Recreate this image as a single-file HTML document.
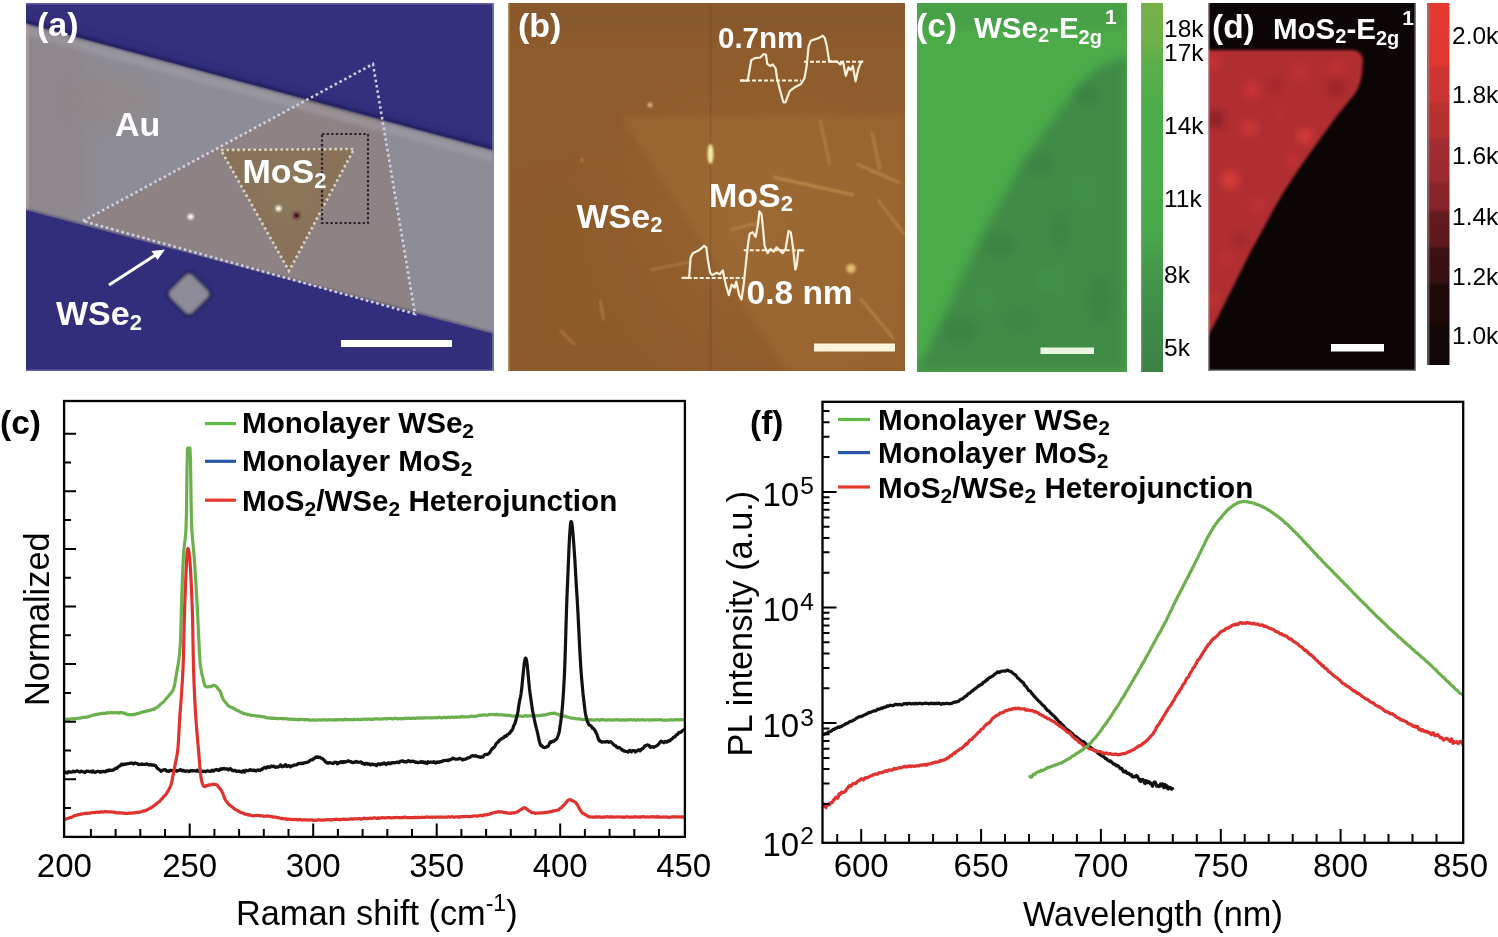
<!DOCTYPE html>
<html><head><meta charset="utf-8"><title>Figure</title>
<style>
html,body{margin:0;padding:0;background:#fff;width:1498px;height:937px;overflow:hidden}
svg{display:block}
text{font-family:"Liberation Sans",Arial,sans-serif}
.b{font-weight:bold}
</style></head><body>
<svg width="1498" height="937" viewBox="0 0 1498 937">
<defs>
<clipPath id="ca"><rect x="26" y="3" width="468" height="368"/></clipPath>
<clipPath id="cb"><rect x="508" y="3" width="397" height="368"/></clipPath>
<clipPath id="cc"><rect x="917" y="3" width="210" height="369"/></clipPath>
<clipPath id="cd"><rect x="1208" y="3" width="208" height="368"/></clipPath>
<clipPath id="band"><polygon points="26,23 494,150 494,334 26,210"/></clipPath>
<filter id="bl1" x="-20%" y="-20%" width="140%" height="140%"><feGaussianBlur stdDeviation="1"/></filter>
<filter id="bl15" x="-20%" y="-20%" width="140%" height="140%"><feGaussianBlur stdDeviation="1.5"/></filter>
<filter id="bl2" x="-20%" y="-20%" width="140%" height="140%"><feGaussianBlur stdDeviation="2"/></filter>
<filter id="bl3" x="-30%" y="-30%" width="160%" height="160%"><feGaussianBlur stdDeviation="3"/></filter>
<filter id="bl4" x="-20%" y="-20%" width="140%" height="140%"><feGaussianBlur stdDeviation="4"/></filter>
<filter id="bl6" x="-30%" y="-30%" width="160%" height="160%"><feGaussianBlur stdDeviation="6"/></filter>
<filter id="bl8" x="-30%" y="-30%" width="160%" height="160%"><feGaussianBlur stdDeviation="8"/></filter>
<filter id="bl12" x="-50%" y="-50%" width="200%" height="200%"><feGaussianBlur stdDeviation="12"/></filter>
<linearGradient id="gcb" x1="0" y1="0" x2="0" y2="1">
<stop offset="0" stop-color="#78b048"/><stop offset="0.11" stop-color="#6eb049"/><stop offset="0.16" stop-color="#5caf4a"/><stop offset="0.27" stop-color="#4dad4a"/><stop offset="0.6" stop-color="#4aaa4a"/><stop offset="0.72" stop-color="#44984b"/><stop offset="0.85" stop-color="#3f8b49"/><stop offset="1" stop-color="#3b8146"/>
</linearGradient>
<linearGradient id="gdb" x1="0" y1="0" x2="0" y2="1">
<stop offset="0" stop-color="#e4392f"/><stop offset="0.17" stop-color="#e0382f"/><stop offset="0.18" stop-color="#cf3633"/><stop offset="0.27" stop-color="#c93434"/><stop offset="0.28" stop-color="#b8312f"/><stop offset="0.37" stop-color="#b3302f"/><stop offset="0.38" stop-color="#a22c31"/><stop offset="0.49" stop-color="#9c2a30"/><stop offset="0.5" stop-color="#8a252a"/><stop offset="0.57" stop-color="#84242a"/><stop offset="0.58" stop-color="#631a1e"/><stop offset="0.67" stop-color="#5c181c"/><stop offset="0.68" stop-color="#3c1012"/><stop offset="0.77" stop-color="#361012"/><stop offset="0.78" stop-color="#220a0b"/><stop offset="0.88" stop-color="#1e0909"/><stop offset="0.89" stop-color="#140708"/><stop offset="1" stop-color="#120707"/>
</linearGradient>
<radialGradient id="gbl" cx="0.62" cy="0.6" r="0.5"><stop offset="0" stop-color="#a06c35" stop-opacity="0.4"/><stop offset="1" stop-color="#a06c35" stop-opacity="0"/></radialGradient>
</defs>

<g clip-path="url(#ca)">
<rect x="26" y="3" width="468" height="368" fill="#322e7c"/>
<polygon points="26,3 494,3 494,140 26,10" fill="#36327f" opacity="0.6"/>
<polygon points="26,23 494,150 494,334 26,210" fill="#8e8c94"/>
<g clip-path="url(#band)">
<rect x="26" y="20" width="60" height="200" fill="#927f80" opacity="0.3" filter="url(#bl8)"/>
<rect x="26" y="3" width="3" height="368" fill="#b0a4a8" opacity="0.6"/>
<ellipse cx="110" cy="100" rx="40" ry="25" fill="#978578" opacity="0.3" filter="url(#bl8)"/>
<polygon points="83,221 373,64 415,314" fill="#8e8384"/>
<line x1="26" y1="31" x2="494" y2="158" stroke="#a8a6b0" stroke-width="8" opacity="0.45" filter="url(#bl2)"/>
<line x1="26" y1="210" x2="494" y2="334" stroke="#2a2766" stroke-width="3" opacity="0.5" filter="url(#bl1)"/>
</g>
<line x1="26" y1="21.8" x2="494" y2="148.8" stroke="#221f58" stroke-width="4" opacity="0.75" filter="url(#bl1)"/>
<polygon points="221,150 354,149 289,271" fill="#88735a"/>
<ellipse cx="290" cy="190" rx="30" ry="30" fill="#8e7a58" opacity="0.5" filter="url(#bl8)"/>
<polygon points="83,221 373,64 415,314" fill="none" stroke="#d4d3e6" stroke-width="2.6" stroke-dasharray="2.6,2.8" opacity="0.95"/>
<polygon points="221,150 354,149 289,271" fill="none" stroke="#dcd6c6" stroke-width="2.6" stroke-dasharray="2.6,2.8" opacity="0.95"/>
<rect x="322" y="134" width="46" height="89" fill="none" stroke="#1a1420" stroke-width="2.2" stroke-dasharray="2.4,2.2" opacity="0.85"/>
<circle cx="278.5" cy="208.5" r="3" fill="#f6f2e2" filter="url(#bl1)"/>
<circle cx="190.6" cy="216.7" r="3" fill="#f6f2ec" filter="url(#bl1)"/>
<circle cx="296.5" cy="215.5" r="4" fill="#6a3040" opacity="0.8" filter="url(#bl1)"/>
<circle cx="296.5" cy="215.5" r="1.8" fill="#3a1020"/>
<g transform="translate(189,294) rotate(45)" filter="url(#bl15)"><rect x="-19" y="-19" width="38" height="38" rx="7" fill="#24215e"/><rect x="-15.5" y="-15.5" width="31" height="31" rx="5" fill="#8e8c98"/></g>
<line x1="109" y1="285" x2="157" y2="254" stroke="#fff" stroke-width="3"/>
<polygon points="165,249.5 151.5,251 157.5,260" fill="#fff"/>
<rect x="341" y="340" width="111" height="7" fill="#fff"/>
<rect x="26" y="3" width="468" height="1.5" fill="#7a78b0" opacity="0.7"/>
<rect x="26" y="369.5" width="468" height="1.5" fill="#7a78b0" opacity="0.7"/>
<rect x="492.3" y="3" width="1.7" height="368" fill="#8a86c0" opacity="0.8"/>
</g>
<text x="37" y="36" class="b" font-size="34" fill="#fff">(a)</text>
<text x="115" y="135.5" class="b" font-size="34" fill="#fff">Au</text>
<text x="242.5" y="183" class="b" font-size="34" fill="#fff">MoS<tspan font-size="22" dy="5">2</tspan></text>
<text x="56" y="325" class="b" font-size="34" fill="#fff">WSe<tspan font-size="22" dy="5">2</tspan></text>
<g clip-path="url(#cb)">
<rect x="508" y="3" width="397" height="368" fill="#8e5b2c"/>
<rect x="508" y="3" width="397" height="368" fill="url(#gbl)"/>
<polygon points="621,117 905,114 905,371 786,371" fill="#a8743a" opacity="0.38" filter="url(#bl3)"/>
<polygon points="508,200 600,180 700,371 508,371" fill="#8d5c2c" opacity="0.5" filter="url(#bl12)"/>
<rect x="508" y="3" width="397" height="30" fill="#7e5230" opacity="0.35" filter="url(#bl6)"/>
<line x1="710.5" y1="3" x2="710.5" y2="371" stroke="#6e4422" stroke-width="1.6" opacity="0.35"/>
<rect x="508" y="3" width="1.5" height="368" fill="#b09060"/>
<line x1="773" y1="177" x2="854" y2="195" stroke="#d8a860" stroke-width="2.6" opacity="0.55" filter="url(#bl1)"/>
<line x1="857" y1="164" x2="900" y2="183" stroke="#d8a860" stroke-width="2.6" opacity="0.44999999999999996" filter="url(#bl1)"/>
<line x1="860" y1="298" x2="894" y2="339" stroke="#d8a860" stroke-width="2.6" opacity="0.44999999999999996" filter="url(#bl1)"/>
<line x1="878" y1="200" x2="905" y2="235" stroke="#d8a860" stroke-width="2.6" opacity="0.4" filter="url(#bl1)"/>
<line x1="650" y1="270" x2="690" y2="262" stroke="#d8a860" stroke-width="2.6" opacity="0.35" filter="url(#bl1)"/>
<line x1="872" y1="132" x2="880" y2="170" stroke="#d8a860" stroke-width="2.6" opacity="0.4" filter="url(#bl1)"/>
<line x1="820" y1="120" x2="830" y2="165" stroke="#d8a860" stroke-width="2.6" opacity="0.35" filter="url(#bl1)"/>
<line x1="600" y1="300" x2="604" y2="320" stroke="#d8a860" stroke-width="2.6" opacity="0.4" filter="url(#bl1)"/>
<line x1="560" y1="330" x2="575" y2="345" stroke="#d8a860" stroke-width="2.6" opacity="0.35" filter="url(#bl1)"/>
<line x1="730" y1="230" x2="760" y2="222" stroke="#d8a860" stroke-width="2.6" opacity="0.4" filter="url(#bl1)"/>
<ellipse cx="710.5" cy="154" rx="3" ry="10" fill="#f2eaa8" filter="url(#bl1)"/>
<circle cx="851" cy="268.5" r="4.5" fill="#e8c070" filter="url(#bl15)"/>
<circle cx="650" cy="105" r="2.5" fill="#d8b078" filter="url(#bl1)"/>
<circle cx="582" cy="160" r="2" fill="#c89860" opacity="0.6" filter="url(#bl1)"/>
<polyline points="740.0,80.6 747.7,80.6 751.2,60.3 754.7,58.2 760.3,57.5 763.8,54.0 765.9,54.7 767.3,63.8 770.1,65.9 772.9,64.5 775.7,68.7 777.1,78.5 779.9,89.7 783.4,102.3 785.5,102.3 789.7,91.1 795.3,86.9 800.9,84.1 804.4,78.5 806.5,67.3 808.6,46.3 810.8,40.7 819.2,37.9 822.7,35.7 824.8,37.9 826.9,46.3 829.0,60.3 831.8,61.7 837.4,61.7 840.2,64.5 843.0,61.7 845.8,75.7 848.6,67.3 850.7,70.1 852.8,65.9 855.6,81.3 858.4,68.7 861.2,61.7 863.3,61.7" fill="none" stroke="#fff2dc" stroke-width="2.2" stroke-linejoin="round"/>
<line x1="740" y1="80.6" x2="801" y2="80.6" stroke="#fff2dc" stroke-width="2" stroke-dasharray="4,2"/>
<line x1="804" y1="61.7" x2="863" y2="61.7" stroke="#fff2dc" stroke-width="2" stroke-dasharray="4,2"/>
<polyline points="681.7,277.9 689.1,277.9 690.6,257.7 692.9,253.2 698.9,250.3 704.1,245.8 706.3,247.3 707.8,259.2 710.1,272.7 712.3,274.9 716.8,272.7 719.8,274.2 722.8,270.4 725.8,284.6 728.8,295.1 731.7,284.6 734.7,287.6 736.2,281.6 739.2,295.1 741.5,299.6 743.7,284.6 745.9,263.7 748.2,242.8 749.7,233.8 752.7,232.3 755.7,236.8 757.9,224.8 759.4,211.4 761.6,214.4 763.1,229.3 764.6,245.8 767.6,253.2 770.6,248.8 773.6,251.7 776.6,247.3 779.6,250.3 782.6,253.2 785.6,248.8 788.6,230.8 790.8,232.3 793.0,247.3 795.3,269.7 796.8,265.2 798.3,250.3 800.5,250.3 804.2,250.3" fill="none" stroke="#fff2dc" stroke-width="2.2" stroke-linejoin="round"/>
<line x1="681.7" y1="278" x2="743.7" y2="278" stroke="#fff2dc" stroke-width="2" stroke-dasharray="4,2"/>
<line x1="743.7" y1="250.3" x2="804" y2="250.3" stroke="#fff2dc" stroke-width="2" stroke-dasharray="4,2"/>
<rect x="814" y="343.5" width="81" height="8" fill="#fff5de"/>
</g>
<text x="518" y="36.5" class="b" font-size="34" fill="#fff">(b)</text>
<text x="718" y="48" class="b" font-size="29.5" fill="#fff">0.7nm</text>
<text x="709" y="207" class="b" font-size="34" fill="#fff">MoS<tspan font-size="22" dy="4">2</tspan></text>
<text x="576.5" y="227.5" class="b" font-size="34" fill="#fff">WSe<tspan font-size="22" dy="4">2</tspan></text>
<text x="746.5" y="304" class="b" font-size="33.5" fill="#fff">0.8 nm</text>
<g clip-path="url(#cc)">
<rect x="917" y="3" width="210" height="369" fill="#4caa49"/>
<rect x="917" y="3" width="210" height="25" fill="#459a47" opacity="0.6" filter="url(#bl4)"/>
<polygon points="1127,56 1127,372 917,372 917,366 928,348 944,316 960,280 976,248 992,216 1008,188 1024,160 1044,132 1064,104 1084,80 1100,66" fill="#3f8c46" filter="url(#bl4)"/>
<ellipse cx="1088" cy="95" rx="12" ry="10" fill="#367c40" opacity="0.6" filter="url(#bl6)"/>
<ellipse cx="1040" cy="165" rx="14" ry="10" fill="#367c40" opacity="0.5" filter="url(#bl6)"/>
<ellipse cx="1000" cy="245" rx="16" ry="12" fill="#367c40" opacity="0.5" filter="url(#bl6)"/>
<ellipse cx="960" cy="330" rx="18" ry="14" fill="#367c40" opacity="0.5" filter="url(#bl6)"/>
<ellipse cx="1060" cy="230" rx="12" ry="20" fill="#367c40" opacity="0.35" filter="url(#bl6)"/>
<ellipse cx="1100" cy="300" rx="14" ry="25" fill="#367c40" opacity="0.4" filter="url(#bl6)"/>
<ellipse cx="1020" cy="320" rx="20" ry="12" fill="#367c40" opacity="0.3" filter="url(#bl6)"/>
<ellipse cx="1050" cy="280" rx="14" ry="12" fill="#4a9a4c" opacity="0.35" filter="url(#bl6)"/>
<ellipse cx="1085" cy="190" rx="10" ry="14" fill="#4a9a4c" opacity="0.3" filter="url(#bl6)"/>
<ellipse cx="985" cy="300" rx="10" ry="10" fill="#4a9a4c" opacity="0.3" filter="url(#bl6)"/>
<rect x="1040.5" y="347.5" width="53.5" height="6.5" fill="#eaf5e0"/>
</g>
<rect x="1141" y="3" width="22" height="369" fill="url(#gcb)"/>
<rect x="1141" y="3" width="1.5" height="369" fill="#9a9a9a" opacity="0.5"/>
<text x="916" y="37" class="b" font-size="33.5" fill="#fff">(c)</text>
<text x="974" y="37.5" class="b" font-size="29.5" fill="#fff">WSe<tspan font-size="20" dy="4">2</tspan><tspan dy="-4">-E</tspan><tspan font-size="20" dy="6">2g</tspan><tspan font-size="21" dx="3" dy="-20">1</tspan></text>
<text x="1164" y="36.5" font-size="24.5" fill="#000">18k</text>
<text x="1164" y="61" font-size="24.5" fill="#000">17k</text>
<text x="1164" y="134.3" font-size="24.5" fill="#000">14k</text>
<text x="1164" y="206.7" font-size="24.5" fill="#000">11k</text>
<text x="1164" y="283" font-size="24.5" fill="#000">8k</text>
<text x="1164" y="356.2" font-size="24.5" fill="#000">5k</text>
<g clip-path="url(#cd)">
<rect x="1208" y="3" width="208" height="368" fill="#0b0505"/>
<path d="M1200,50 L1352,50 Q1362,50.5 1363,60 L1362,74 Q1360,88 1353,96 L1336,117 L1319,140.6 L1302,164.5 L1285,190 L1276,205 L1267,222 L1250.7,251.4 L1234.5,284 L1218.3,316.3 L1208,336.6 L1200,345 Z" fill="#b02e31" filter="url(#bl15)"/>
<clipPath id="redc"><path d="M1200,50 L1352,50 Q1362,50.5 1363,60 L1362,74 Q1360,88 1353,96 L1336,117 L1319,140.6 L1302,164.5 L1285,190 L1276,205 L1267,222 L1250.7,251.4 L1234.5,284 L1218.3,316.3 L1208,336.6 L1200,345 Z"/></clipPath>
<g clip-path="url(#redc)">
<circle cx="1214" cy="62" r="7" fill="#d03238" opacity="0.8" filter="url(#bl4)"/>
<circle cx="1252" cy="90" r="9" fill="#cc3438" opacity="0.8" filter="url(#bl4)"/>
<circle cx="1300" cy="72" r="9" fill="#c83438" opacity="0.6" filter="url(#bl4)"/>
<circle cx="1338" cy="68" r="9" fill="#cc3438" opacity="0.55" filter="url(#bl4)"/>
<circle cx="1250" cy="128" r="8" fill="#d03a3a" opacity="0.8" filter="url(#bl4)"/>
<circle cx="1280" cy="112" r="6" fill="#c63636" opacity="0.6" filter="url(#bl4)"/>
<circle cx="1305" cy="136" r="8" fill="#d83c3a" opacity="0.9" filter="url(#bl4)"/>
<circle cx="1292" cy="160" r="7" fill="#cc3838" opacity="0.6" filter="url(#bl4)"/>
<circle cx="1230" cy="180" r="9" fill="#dc3e3e" opacity="0.9" filter="url(#bl4)"/>
<circle cx="1258" cy="206" r="9" fill="#c43636" opacity="0.6" filter="url(#bl4)"/>
<circle cx="1226" cy="258" r="8" fill="#c23636" opacity="0.6" filter="url(#bl4)"/>
<circle cx="1216" cy="119" r="9" fill="#7a1a20" opacity="0.7" filter="url(#bl4)"/>
<circle cx="1240" cy="240" r="8" fill="#8e2226" opacity="0.4" filter="url(#bl4)"/>
<circle cx="1336" cy="88" r="10" fill="#962428" opacity="0.6" filter="url(#bl4)"/>
<circle cx="1275" cy="85" r="8" fill="#9a2428" opacity="0.5" filter="url(#bl4)"/>
<circle cx="1240" cy="300" r="8" fill="#c83a3a" opacity="0.5" filter="url(#bl4)"/>
<circle cx="1212" cy="300" r="8" fill="#c03838" opacity="0.5" filter="url(#bl4)"/>
</g>
<rect x="1331" y="344" width="53" height="7.5" fill="#fff"/>
<rect x="1414.5" y="3" width="1.5" height="368" fill="#7a7a7a"/>
<rect x="1208" y="3" width="1.5" height="368" fill="#b8a8a8" opacity="0.8"/>
<rect x="1208" y="369.5" width="208" height="1.5" fill="#7a7a7a"/>
</g>
<rect x="1427" y="3" width="22.5" height="362" fill="url(#gdb)"/>
<rect x="1427" y="3" width="2.5" height="362" fill="#8a8a8a" opacity="0.55"/>
<text x="1212" y="37.5" class="b" font-size="33.5" fill="#fff">(d)</text>
<text x="1273" y="38.5" class="b" font-size="29.5" fill="#fff">MoS<tspan font-size="20" dy="4">2</tspan><tspan dy="-4">-E</tspan><tspan font-size="20" dy="6">2g</tspan><tspan font-size="21" dx="3" dy="-20">1</tspan></text>
<text x="1452" y="43.8" font-size="24.5" fill="#000">2.0k</text>
<text x="1452" y="103.4" font-size="24.5" fill="#000">1.8k</text>
<text x="1452" y="164.3" font-size="24.5" fill="#000">1.6k</text>
<text x="1452" y="224.8" font-size="24.5" fill="#000">1.4k</text>
<text x="1452" y="284.6" font-size="24.5" fill="#000">1.2k</text>
<text x="1452" y="344.4" font-size="24.5" fill="#000">1.0k</text>
<clipPath id="cr"><rect x="64" y="401" width="621" height="436"/></clipPath>
<g clip-path="url(#cr)" fill="none" stroke-linejoin="round" stroke-linecap="round">
<path d="M64.0,719.5 L64.5,719.6 L65.0,719.3 L65.5,719.4 L66.0,719.3 L66.5,719.2 L67.0,719.1 L67.5,719.0 L68.0,719.5 L68.5,719.5 L69.0,719.6 L69.5,719.1 L70.0,719.0 L70.5,718.9 L71.0,718.8 L71.5,718.9 L72.0,718.9 L72.5,719.0 L73.0,718.9 L73.5,718.9 L74.0,718.9 L74.5,718.9 L75.0,718.8 L75.5,718.6 L76.0,718.5 L76.5,718.7 L77.0,718.6 L77.5,718.5 L78.0,718.3 L78.5,718.2 L79.0,718.1 L79.5,718.1 L80.0,718.1 L80.5,718.1 L81.0,718.0 L81.5,717.6 L82.0,717.6 L82.5,717.4 L83.0,717.5 L83.5,717.3 L84.0,717.4 L84.5,717.4 L85.0,717.2 L85.5,717.0 L86.0,717.0 L86.5,717.1 L87.0,717.1 L87.5,717.0 L88.0,716.8 L88.5,716.6 L89.0,716.4 L89.5,716.2 L90.0,716.2 L90.5,716.1 L91.0,715.9 L91.5,715.7 L92.0,715.4 L92.5,715.4 L93.0,715.3 L93.5,715.2 L94.0,715.0 L94.5,714.8 L95.0,714.9 L95.5,714.6 L96.0,714.4 L96.5,714.3 L97.0,714.5 L97.5,714.3 L98.0,714.1 L98.5,713.9 L99.0,713.9 L99.5,714.0 L100.0,713.8 L100.5,713.8 L101.0,713.5 L101.5,713.6 L102.0,713.5 L102.5,713.5 L103.0,713.2 L103.5,713.3 L104.0,713.3 L104.5,713.5 L105.0,713.5 L105.5,713.4 L106.0,713.2 L106.5,713.0 L107.0,712.8 L107.5,713.0 L108.0,712.9 L108.5,712.9 L109.0,712.7 L109.5,712.8 L110.0,712.9 L110.5,712.8 L111.0,712.6 L111.5,712.5 L112.0,712.7 L112.5,713.0 L113.0,713.0 L113.5,712.8 L114.0,712.7 L114.5,712.7 L115.0,712.8 L115.5,712.6 L116.0,712.7 L116.5,712.6 L117.0,712.7 L117.5,712.7 L118.0,712.9 L118.5,713.0 L119.0,713.2 L119.5,712.7 L120.0,712.5 L120.5,712.3 L121.0,712.6 L121.5,712.5 L122.0,712.7 L122.5,712.9 L123.0,713.1 L123.5,713.0 L124.0,712.9 L124.5,713.2 L125.0,713.4 L125.5,713.9 L126.0,714.0 L126.5,714.1 L127.0,714.0 L127.5,714.4 L128.0,714.5 L128.5,714.7 L129.0,714.5 L129.5,714.5 L130.0,714.4 L130.5,714.7 L131.0,714.8 L131.5,714.9 L132.0,714.7 L132.5,714.6 L133.0,714.6 L133.5,714.5 L134.0,714.4 L134.5,714.6 L135.0,714.6 L135.5,714.4 L136.0,713.9 L136.5,713.7 L137.0,713.7 L137.5,713.7 L138.0,713.7 L138.5,713.5 L139.0,713.3 L139.5,713.2 L140.0,712.8 L140.5,712.6 L141.0,712.4 L141.5,712.3 L142.0,712.2 L142.5,711.9 L143.0,711.8 L143.5,711.8 L144.0,711.7 L144.5,711.6 L145.0,711.5 L145.5,711.5 L146.0,711.5 L146.5,711.1 L147.0,711.0 L147.5,710.6 L148.0,710.7 L148.5,710.6 L149.0,710.6 L149.5,710.5 L150.0,710.3 L150.5,710.2 L151.0,710.0 L151.5,709.8 L152.0,709.5 L152.5,709.3 L153.0,709.4 L153.5,709.2 L154.0,709.3 L154.5,708.9 L155.0,708.5 L155.5,708.1 L156.0,707.9 L156.5,707.6 L157.0,707.3 L157.5,706.9 L158.0,706.8 L158.5,706.3 L159.0,706.0 L159.5,705.3 L160.0,704.9 L160.5,704.2 L161.0,703.7 L161.5,703.4 L162.0,703.1 L162.5,702.7 L163.0,702.3 L163.5,701.8 L164.0,701.4 L164.5,700.8 L165.0,700.1 L165.5,699.4 L166.0,698.9 L166.5,698.2 L167.0,697.8 L167.5,697.1 L168.0,696.8 L168.5,696.1 L169.0,695.4 L169.5,694.8 L170.0,694.2 L170.5,693.7 L171.0,693.1 L171.5,692.5 L172.0,691.8 L172.5,690.9 L173.0,690.0 L173.5,688.7 L174.0,687.3 L174.5,685.0 L175.0,682.6 L175.5,679.7 L176.0,676.5 L176.5,673.4 L177.0,670.6 L177.5,668.1 L178.0,665.3 L178.5,661.9 L179.0,658.2 L179.5,653.9 L180.0,648.5 L180.5,641.0 L181.0,624.3 L181.5,605.1 L182.0,590.5 L182.5,576.7 L183.0,564.5 L183.5,554.8 L184.0,548.4 L184.5,544.2 L185.0,540.4 L185.5,535.7 L186.0,528.6 L186.5,513.4 L187.0,468.7 L187.5,448.2 L188.0,448.2 L188.5,448.0 L189.0,448.1 L189.5,448.3 L190.0,448.2 L190.5,461.3 L191.0,496.6 L191.5,523.2 L192.0,532.2 L192.5,538.9 L193.0,544.0 L193.5,549.1 L194.0,554.9 L194.5,562.0 L195.0,569.3 L195.5,577.1 L196.0,585.2 L196.5,593.6 L197.0,602.3 L197.5,611.8 L198.0,622.2 L198.5,632.9 L199.0,643.1 L199.5,653.9 L200.0,662.2 L200.5,666.3 L201.0,669.5 L201.5,672.0 L202.0,674.3 L202.5,676.3 L203.0,678.3 L203.5,680.3 L204.0,682.7 L204.5,684.4 L205.0,685.9 L205.5,686.5 L206.0,686.7 L206.5,686.8 L207.0,686.8 L207.5,686.9 L208.0,686.8 L208.5,686.6 L209.0,686.6 L209.5,686.7 L210.0,686.7 L210.5,686.8 L211.0,686.4 L211.5,686.4 L212.0,686.0 L212.5,685.6 L213.0,685.3 L213.5,685.3 L214.0,685.4 L214.5,685.4 L215.0,685.6 L215.5,686.0 L216.0,686.3 L216.5,686.6 L217.0,687.3 L217.5,688.0 L218.0,688.7 L218.5,689.4 L219.0,690.1 L219.5,690.5 L220.0,691.1 L220.5,692.2 L221.0,693.6 L221.5,695.1 L222.0,696.5 L222.5,697.6 L223.0,698.8 L223.5,699.8 L224.0,700.6 L224.5,701.1 L225.0,701.7 L225.5,702.3 L226.0,702.9 L226.5,703.5 L227.0,704.2 L227.5,704.7 L228.0,705.6 L228.5,706.0 L229.0,706.3 L229.5,706.4 L230.0,706.7 L230.5,707.0 L231.0,707.3 L231.5,707.5 L232.0,707.5 L232.5,707.7 L233.0,707.9 L233.5,708.6 L234.0,708.7 L234.5,708.9 L235.0,709.1 L235.5,709.3 L236.0,709.7 L236.5,709.9 L237.0,710.3 L237.5,710.5 L238.0,710.6 L238.5,711.0 L239.0,711.1 L239.5,711.5 L240.0,711.7 L240.5,712.3 L241.0,712.4 L241.5,712.5 L242.0,712.6 L242.5,712.8 L243.0,713.2 L243.5,713.4 L244.0,713.7 L244.5,713.8 L245.0,714.0 L245.5,713.8 L246.0,713.9 L246.5,714.2 L247.0,714.5 L247.5,714.6 L248.0,714.4 L248.5,714.7 L249.0,714.8 L249.5,714.9 L250.0,715.0 L250.5,715.1 L251.0,715.3 L251.5,715.3 L252.0,715.5 L252.5,715.5 L253.0,715.6 L253.5,715.4 L254.0,715.4 L254.5,715.6 L255.0,715.7 L255.5,715.8 L256.0,715.9 L256.5,716.1 L257.0,716.1 L257.5,716.1 L258.0,715.9 L258.5,715.9 L259.0,716.0 L259.5,716.3 L260.0,716.4 L260.5,716.3 L261.0,716.4 L261.5,716.3 L262.0,716.6 L262.5,716.7 L263.0,716.9 L263.5,716.7 L264.0,716.8 L264.5,717.1 L265.0,717.3 L265.5,717.4 L266.0,717.4 L266.5,717.6 L267.0,717.9 L267.5,717.9 L268.0,717.9 L268.5,718.0 L269.0,718.0 L269.5,717.9 L270.0,718.0 L270.5,718.0 L271.0,718.4 L271.5,718.1 L272.0,718.1 L272.5,718.1 L273.0,718.3 L273.5,718.3 L274.0,718.3 L274.5,718.5 L275.0,718.4 L275.5,718.3 L276.0,718.4 L276.5,718.6 L277.0,718.7 L277.5,718.6 L278.0,718.6 L278.5,718.7 L279.0,718.6 L279.5,718.5 L280.0,718.4 L280.5,718.4 L281.0,718.5 L281.5,718.6 L282.0,718.7 L282.5,718.7 L283.0,718.8 L283.5,718.6 L284.0,718.8 L284.5,718.6 L285.0,718.7 L285.5,718.7 L286.0,718.8 L286.5,718.9 L287.0,718.8 L287.5,718.9 L288.0,719.0 L288.5,719.1 L289.0,719.2 L289.5,719.1 L290.0,719.1 L290.5,719.0 L291.0,719.2 L291.5,719.3 L292.0,719.5 L292.5,719.4 L293.0,719.4 L293.5,719.3 L294.0,719.3 L294.5,719.4 L295.0,719.5 L295.5,719.4 L296.0,719.4 L296.5,719.3 L297.0,719.6 L297.5,719.9 L298.0,719.9 L298.5,719.7 L299.0,719.3 L299.5,719.3 L300.0,719.3 L300.5,719.5 L301.0,719.6 L301.5,719.4 L302.0,719.5 L302.5,719.5 L303.0,719.5 L303.5,719.7 L304.0,719.8 L304.5,719.8 L305.0,719.6 L305.5,719.5 L306.0,719.7 L306.5,719.7 L307.0,719.6 L307.5,719.6 L308.0,719.8 L308.5,719.9 L309.0,719.9 L309.5,720.1 L310.0,720.2 L310.5,720.2 L311.0,720.2 L311.5,720.2 L312.0,720.2 L312.5,720.0 L313.0,719.9 L313.5,719.9 L314.0,720.2 L314.5,720.1 L315.0,720.1 L315.5,720.0 L316.0,720.2 L316.5,720.1 L317.0,720.1 L317.5,719.9 L318.0,719.9 L318.5,719.9 L319.0,719.9 L319.5,719.9 L320.0,720.1 L320.5,720.1 L321.0,720.0 L321.5,719.8 L322.0,719.9 L322.5,719.8 L323.0,719.8 L323.5,719.7 L324.0,719.9 L324.5,719.9 L325.0,719.9 L325.5,719.7 L326.0,719.8 L326.5,720.0 L327.0,720.1 L327.5,720.0 L328.0,719.9 L328.5,719.8 L329.0,719.8 L329.5,719.7 L330.0,719.8 L330.5,719.8 L331.0,719.7 L331.5,719.8 L332.0,720.0 L332.5,720.1 L333.0,720.0 L333.5,719.8 L334.0,719.9 L334.5,719.7 L335.0,719.9 L335.5,719.7 L336.0,720.0 L336.5,719.8 L337.0,719.9 L337.5,719.7 L338.0,719.8 L338.5,719.7 L339.0,719.7 L339.5,719.6 L340.0,719.5 L340.5,719.6 L341.0,719.7 L341.5,719.9 L342.0,719.9 L342.5,719.7 L343.0,719.7 L343.5,719.7 L344.0,719.9 L344.5,719.7 L345.0,719.2 L345.5,719.0 L346.0,719.3 L346.5,719.6 L347.0,719.6 L347.5,719.6 L348.0,719.5 L348.5,719.6 L349.0,719.6 L349.5,719.7 L350.0,719.7 L350.5,719.6 L351.0,719.6 L351.5,719.5 L352.0,719.7 L352.5,719.9 L353.0,719.8 L353.5,719.5 L354.0,719.2 L354.5,719.3 L355.0,719.6 L355.5,719.7 L356.0,719.6 L356.5,719.4 L357.0,719.4 L357.5,719.4 L358.0,719.5 L358.5,719.4 L359.0,719.6 L359.5,719.5 L360.0,719.6 L360.5,719.6 L361.0,719.4 L361.5,719.4 L362.0,719.3 L362.5,719.4 L363.0,719.5 L363.5,719.4 L364.0,719.3 L364.5,719.1 L365.0,719.1 L365.5,719.2 L366.0,719.2 L366.5,719.3 L367.0,719.3 L367.5,719.3 L368.0,719.1 L368.5,719.1 L369.0,719.1 L369.5,719.1 L370.0,719.2 L370.5,719.3 L371.0,719.5 L371.5,719.4 L372.0,719.4 L372.5,719.5 L373.0,719.4 L373.5,719.1 L374.0,719.0 L374.5,719.0 L375.0,718.8 L375.5,718.9 L376.0,718.8 L376.5,719.0 L377.0,718.9 L377.5,719.1 L378.0,719.0 L378.5,719.0 L379.0,718.9 L379.5,719.1 L380.0,719.1 L380.5,719.2 L381.0,719.0 L381.5,719.0 L382.0,719.0 L382.5,718.9 L383.0,719.0 L383.5,718.8 L384.0,718.9 L384.5,718.7 L385.0,718.7 L385.5,718.7 L386.0,718.8 L386.5,718.9 L387.0,718.8 L387.5,718.8 L388.0,718.6 L388.5,718.5 L389.0,718.5 L389.5,718.5 L390.0,718.5 L390.5,718.5 L391.0,718.6 L391.5,718.6 L392.0,718.8 L392.5,718.9 L393.0,719.0 L393.5,718.9 L394.0,718.7 L394.5,718.4 L395.0,718.4 L395.5,718.2 L396.0,718.3 L396.5,718.4 L397.0,718.7 L397.5,718.9 L398.0,718.7 L398.5,718.6 L399.0,718.4 L399.5,718.6 L400.0,718.5 L400.5,718.6 L401.0,718.8 L401.5,718.9 L402.0,719.0 L402.5,718.8 L403.0,718.7 L403.5,718.5 L404.0,718.7 L404.5,718.7 L405.0,718.5 L405.5,718.2 L406.0,718.2 L406.5,718.3 L407.0,718.4 L407.5,718.4 L408.0,718.1 L408.5,718.2 L409.0,718.3 L409.5,718.5 L410.0,718.5 L410.5,718.2 L411.0,718.3 L411.5,718.3 L412.0,718.4 L412.5,718.3 L413.0,718.1 L413.5,718.1 L414.0,718.0 L414.5,718.2 L415.0,718.4 L415.5,718.4 L416.0,718.2 L416.5,718.0 L417.0,718.0 L417.5,718.1 L418.0,718.0 L418.5,717.8 L419.0,717.9 L419.5,718.0 L420.0,718.2 L420.5,717.9 L421.0,718.1 L421.5,717.8 L422.0,717.9 L422.5,717.9 L423.0,718.2 L423.5,718.2 L424.0,717.9 L424.5,718.0 L425.0,717.9 L425.5,718.0 L426.0,717.9 L426.5,717.9 L427.0,718.0 L427.5,717.8 L428.0,717.8 L428.5,717.7 L429.0,717.8 L429.5,717.9 L430.0,718.0 L430.5,718.0 L431.0,717.9 L431.5,717.7 L432.0,717.7 L432.5,717.8 L433.0,717.9 L433.5,717.9 L434.0,717.8 L434.5,717.7 L435.0,717.8 L435.5,717.7 L436.0,717.7 L436.5,717.8 L437.0,717.8 L437.5,717.8 L438.0,717.4 L438.5,717.5 L439.0,717.3 L439.5,717.4 L440.0,717.4 L440.5,717.6 L441.0,717.8 L441.5,717.8 L442.0,717.9 L442.5,717.7 L443.0,717.6 L443.5,717.5 L444.0,717.3 L444.5,717.3 L445.0,717.5 L445.5,717.7 L446.0,717.7 L446.5,717.7 L447.0,717.6 L447.5,717.5 L448.0,717.2 L448.5,717.2 L449.0,717.2 L449.5,717.5 L450.0,717.6 L450.5,717.5 L451.0,717.2 L451.5,717.2 L452.0,717.1 L452.5,717.1 L453.0,717.2 L453.5,717.4 L454.0,717.4 L454.5,717.2 L455.0,717.0 L455.5,717.1 L456.0,717.3 L456.5,717.3 L457.0,717.1 L457.5,717.0 L458.0,717.2 L458.5,717.2 L459.0,717.1 L459.5,717.1 L460.0,717.1 L460.5,717.1 L461.0,716.9 L461.5,716.5 L462.0,716.4 L462.5,716.4 L463.0,716.7 L463.5,716.9 L464.0,717.0 L464.5,717.0 L465.0,716.9 L465.5,716.9 L466.0,716.9 L466.5,716.9 L467.0,716.8 L467.5,716.9 L468.0,716.9 L468.5,716.8 L469.0,716.8 L469.5,716.5 L470.0,716.5 L470.5,716.2 L471.0,716.3 L471.5,716.2 L472.0,716.3 L472.5,716.1 L473.0,716.3 L473.5,716.4 L474.0,716.5 L474.5,716.5 L475.0,716.3 L475.5,716.4 L476.0,716.2 L476.5,716.0 L477.0,715.8 L477.5,715.8 L478.0,715.8 L478.5,715.5 L479.0,715.3 L479.5,715.3 L480.0,715.2 L480.5,715.5 L481.0,715.5 L481.5,715.4 L482.0,715.1 L482.5,714.9 L483.0,714.8 L483.5,714.9 L484.0,714.9 L484.5,715.0 L485.0,714.9 L485.5,714.9 L486.0,715.1 L486.5,715.3 L487.0,715.2 L487.5,715.1 L488.0,714.8 L488.5,714.8 L489.0,714.6 L489.5,714.7 L490.0,714.6 L490.5,714.5 L491.0,714.4 L491.5,714.6 L492.0,714.5 L492.5,714.5 L493.0,714.4 L493.5,714.6 L494.0,714.6 L494.5,714.5 L495.0,714.5 L495.5,714.7 L496.0,714.8 L496.5,714.7 L497.0,714.4 L497.5,714.3 L498.0,714.6 L498.5,714.9 L499.0,715.0 L499.5,714.8 L500.0,714.7 L500.5,714.7 L501.0,714.8 L501.5,715.0 L502.0,714.9 L502.5,714.9 L503.0,714.8 L503.5,715.1 L504.0,715.0 L504.5,715.1 L505.0,715.0 L505.5,715.2 L506.0,715.3 L506.5,715.4 L507.0,715.2 L507.5,715.1 L508.0,715.4 L508.5,715.3 L509.0,715.4 L509.5,715.4 L510.0,715.7 L510.5,715.8 L511.0,715.9 L511.5,715.9 L512.0,716.0 L512.5,716.0 L513.0,716.1 L513.5,716.1 L514.0,716.2 L514.5,716.0 L515.0,716.1 L515.5,715.8 L516.0,715.8 L516.5,715.8 L517.0,715.9 L517.5,716.1 L518.0,715.9 L518.5,716.2 L519.0,716.2 L519.5,716.2 L520.0,716.0 L520.5,716.1 L521.0,716.1 L521.5,716.2 L522.0,716.3 L522.5,716.4 L523.0,716.4 L523.5,716.1 L524.0,716.1 L524.5,715.9 L525.0,715.7 L525.5,715.5 L526.0,715.6 L526.5,716.0 L527.0,716.1 L527.5,716.1 L528.0,715.8 L528.5,715.8 L529.0,715.8 L529.5,715.9 L530.0,715.8 L530.5,715.9 L531.0,715.9 L531.5,715.9 L532.0,716.0 L532.5,716.2 L533.0,716.0 L533.5,716.1 L534.0,715.9 L534.5,716.2 L535.0,715.8 L535.5,715.8 L536.0,715.7 L536.5,715.8 L537.0,715.8 L537.5,715.8 L538.0,715.7 L538.5,715.6 L539.0,715.5 L539.5,715.7 L540.0,715.6 L540.5,715.5 L541.0,715.4 L541.5,715.2 L542.0,715.1 L542.5,715.2 L543.0,715.1 L543.5,715.2 L544.0,714.9 L544.5,714.9 L545.0,715.0 L545.5,714.9 L546.0,714.7 L546.5,714.4 L547.0,714.5 L547.5,714.4 L548.0,714.3 L548.5,714.1 L549.0,713.9 L549.5,714.0 L550.0,713.8 L550.5,713.6 L551.0,713.4 L551.5,713.4 L552.0,713.4 L552.5,713.3 L553.0,713.4 L553.5,713.3 L554.0,713.3 L554.5,713.1 L555.0,713.2 L555.5,713.5 L556.0,713.8 L556.5,714.0 L557.0,714.0 L557.5,714.2 L558.0,714.3 L558.5,714.7 L559.0,715.0 L559.5,715.0 L560.0,715.5 L560.5,715.5 L561.0,715.9 L561.5,715.8 L562.0,716.1 L562.5,716.2 L563.0,716.0 L563.5,715.9 L564.0,716.1 L564.5,716.4 L565.0,716.5 L565.5,716.3 L566.0,716.6 L566.5,716.9 L567.0,717.2 L567.5,717.2 L568.0,717.2 L568.5,717.3 L569.0,717.4 L569.5,717.5 L570.0,717.8 L570.5,718.0 L571.0,718.1 L571.5,718.1 L572.0,718.1 L572.5,718.1 L573.0,718.1 L573.5,718.3 L574.0,718.4 L574.5,718.6 L575.0,718.6 L575.5,718.6 L576.0,718.7 L576.5,718.8 L577.0,718.9 L577.5,719.0 L578.0,718.9 L578.5,718.8 L579.0,718.7 L579.5,718.8 L580.0,719.1 L580.5,719.2 L581.0,719.3 L581.5,719.2 L582.0,719.4 L582.5,719.6 L583.0,719.7 L583.5,719.6 L584.0,719.5 L584.5,719.5 L585.0,719.5 L585.5,719.6 L586.0,719.7 L586.5,719.5 L587.0,719.4 L587.5,719.2 L588.0,719.3 L588.5,719.7 L589.0,720.0 L589.5,719.9 L590.0,719.7 L590.5,719.6 L591.0,719.8 L591.5,719.8 L592.0,719.9 L592.5,719.9 L593.0,720.1 L593.5,720.1 L594.0,720.2 L594.5,720.1 L595.0,719.9 L595.5,719.8 L596.0,719.7 L596.5,719.9 L597.0,719.8 L597.5,719.7 L598.0,719.7 L598.5,719.9 L599.0,720.2 L599.5,720.3 L600.0,720.0 L600.5,719.8 L601.0,719.6 L601.5,719.8 L602.0,719.6 L602.5,719.7 L603.0,719.7 L603.5,719.8 L604.0,719.8 L604.5,719.9 L605.0,720.0 L605.5,720.1 L606.0,720.1 L606.5,720.2 L607.0,720.1 L607.5,719.9 L608.0,720.0 L608.5,719.9 L609.0,719.9 L609.5,719.9 L610.0,719.8 L610.5,719.9 L611.0,720.0 L611.5,720.1 L612.0,720.0 L612.5,720.0 L613.0,720.1 L613.5,719.9 L614.0,719.7 L614.5,719.8 L615.0,719.9 L615.5,719.9 L616.0,719.6 L616.5,719.6 L617.0,719.7 L617.5,719.9 L618.0,719.9 L618.5,720.0 L619.0,719.8 L619.5,719.9 L620.0,720.0 L620.5,720.1 L621.0,720.2 L621.5,720.1 L622.0,720.2 L622.5,720.1 L623.0,719.8 L623.5,719.7 L624.0,719.8 L624.5,720.0 L625.0,720.2 L625.5,720.2 L626.0,720.2 L626.5,720.0 L627.0,719.8 L627.5,719.8 L628.0,719.9 L628.5,720.0 L629.0,719.8 L629.5,719.7 L630.0,719.6 L630.5,719.7 L631.0,719.7 L631.5,719.8 L632.0,719.8 L632.5,719.9 L633.0,720.1 L633.5,719.9 L634.0,719.7 L634.5,719.7 L635.0,719.9 L635.5,720.3 L636.0,720.2 L636.5,720.1 L637.0,720.0 L637.5,719.8 L638.0,719.7 L638.5,719.8 L639.0,719.8 L639.5,720.1 L640.0,719.9 L640.5,719.9 L641.0,719.8 L641.5,719.9 L642.0,719.8 L642.5,719.6 L643.0,719.6 L643.5,719.9 L644.0,720.0 L644.5,720.2 L645.0,720.0 L645.5,720.0 L646.0,720.0 L646.5,719.9 L647.0,719.8 L647.5,719.8 L648.0,720.0 L648.5,720.0 L649.0,720.1 L649.5,720.2 L650.0,720.1 L650.5,719.9 L651.0,719.8 L651.5,719.9 L652.0,720.0 L652.5,720.0 L653.0,719.9 L653.5,720.0 L654.0,719.9 L654.5,720.0 L655.0,719.8 L655.5,719.8 L656.0,719.7 L656.5,719.8 L657.0,719.9 L657.5,719.9 L658.0,719.9 L658.5,719.9 L659.0,719.8 L659.5,719.7 L660.0,719.6 L660.5,719.6 L661.0,719.7 L661.5,719.8 L662.0,720.0 L662.5,720.1 L663.0,720.2 L663.5,720.3 L664.0,720.2 L664.5,720.2 L665.0,720.2 L665.5,720.2 L666.0,720.0 L666.5,720.0 L667.0,720.1 L667.5,720.1 L668.0,720.1 L668.5,720.1 L669.0,720.0 L669.5,720.0 L670.0,719.9 L670.5,720.0 L671.0,719.8 L671.5,719.8 L672.0,719.9 L672.5,720.1 L673.0,720.1 L673.5,720.0 L674.0,719.9 L674.5,719.8 L675.0,719.7 L675.5,719.8 L676.0,720.0 L676.5,719.9 L677.0,720.0 L677.5,719.8 L678.0,719.8 L678.5,719.7 L679.0,719.9 L679.5,720.0 L680.0,719.8 L680.5,719.7 L681.0,719.7 L681.5,719.8 L682.0,719.7 L682.5,719.6 L683.0,719.7 L683.5,719.9 L684.0,720.0" stroke="#6cb04e" stroke-width="3.2"/>
<path d="M64.0,772.4 L64.5,772.4 L65.0,772.7 L65.5,772.2 L66.0,772.2 L66.5,772.9 L67.0,773.0 L67.5,772.9 L68.0,772.1 L68.5,771.6 L69.0,771.6 L69.5,771.9 L70.0,771.8 L70.5,772.3 L71.0,772.1 L71.5,772.2 L72.0,772.0 L72.5,771.5 L73.0,771.2 L73.5,771.1 L74.0,771.6 L74.5,771.9 L75.0,771.8 L75.5,771.6 L76.0,771.5 L76.5,771.1 L77.0,770.7 L77.5,771.1 L78.0,771.2 L78.5,771.5 L79.0,771.5 L79.5,772.0 L80.0,772.1 L80.5,771.5 L81.0,771.2 L81.5,771.1 L82.0,771.4 L82.5,771.5 L83.0,771.8 L83.5,771.8 L84.0,772.0 L84.5,772.4 L85.0,772.6 L85.5,772.0 L86.0,771.7 L86.5,771.0 L87.0,771.1 L87.5,771.0 L88.0,771.2 L88.5,771.4 L89.0,771.5 L89.5,771.6 L90.0,771.4 L90.5,771.2 L91.0,771.7 L91.5,772.1 L92.0,771.6 L92.5,771.1 L93.0,770.9 L93.5,771.8 L94.0,772.2 L94.5,772.5 L95.0,772.3 L95.5,772.0 L96.0,771.9 L96.5,771.7 L97.0,771.5 L97.5,771.4 L98.0,771.4 L98.5,771.4 L99.0,771.6 L99.5,771.6 L100.0,772.2 L100.5,771.7 L101.0,771.5 L101.5,771.6 L102.0,772.0 L102.5,771.7 L103.0,771.3 L103.5,771.5 L104.0,771.6 L104.5,771.6 L105.0,771.9 L105.5,771.8 L106.0,771.6 L106.5,770.6 L107.0,770.4 L107.5,770.7 L108.0,770.9 L108.5,770.7 L109.0,770.0 L109.5,769.9 L110.0,770.4 L110.5,770.3 L111.0,770.4 L111.5,770.0 L112.0,770.2 L112.5,770.1 L113.0,770.3 L113.5,769.9 L114.0,769.5 L114.5,769.2 L115.0,768.7 L115.5,768.5 L116.0,768.2 L116.5,768.6 L117.0,768.2 L117.5,767.7 L118.0,767.1 L118.5,766.6 L119.0,766.2 L119.5,766.0 L120.0,766.0 L120.5,765.5 L121.0,765.0 L121.5,764.2 L122.0,764.5 L122.5,764.3 L123.0,764.8 L123.5,764.2 L124.0,764.2 L124.5,764.2 L125.0,764.6 L125.5,764.2 L126.0,764.2 L126.5,763.8 L127.0,763.9 L127.5,763.7 L128.0,763.6 L128.5,763.6 L129.0,763.3 L129.5,763.3 L130.0,763.4 L130.5,763.4 L131.0,763.1 L131.5,762.9 L132.0,763.0 L132.5,763.6 L133.0,763.7 L133.5,763.9 L134.0,763.6 L134.5,763.3 L135.0,763.1 L135.5,762.8 L136.0,763.3 L136.5,763.5 L137.0,763.7 L137.5,763.7 L138.0,764.2 L138.5,764.5 L139.0,764.7 L139.5,764.4 L140.0,764.4 L140.5,764.4 L141.0,764.4 L141.5,763.9 L142.0,764.4 L142.5,764.1 L143.0,764.5 L143.5,764.3 L144.0,764.5 L144.5,764.5 L145.0,764.4 L145.5,764.1 L146.0,764.3 L146.5,763.8 L147.0,763.9 L147.5,764.2 L148.0,764.6 L148.5,764.9 L149.0,765.0 L149.5,765.0 L150.0,764.7 L150.5,764.4 L151.0,764.9 L151.5,765.1 L152.0,765.2 L152.5,764.8 L153.0,764.8 L153.5,765.0 L154.0,765.2 L154.5,765.4 L155.0,765.4 L155.5,765.6 L156.0,766.2 L156.5,767.1 L157.0,768.1 L157.5,768.5 L158.0,768.6 L158.5,769.0 L159.0,769.6 L159.5,769.8 L160.0,770.2 L160.5,770.4 L161.0,771.4 L161.5,771.0 L162.0,770.5 L162.5,770.3 L163.0,770.1 L163.5,770.2 L164.0,769.7 L164.5,769.9 L165.0,769.6 L165.5,769.8 L166.0,770.4 L166.5,771.0 L167.0,771.2 L167.5,770.8 L168.0,771.1 L168.5,771.1 L169.0,771.5 L169.5,770.7 L170.0,770.6 L170.5,770.1 L171.0,770.6 L171.5,770.5 L172.0,770.5 L172.5,770.5 L173.0,770.7 L173.5,771.2 L174.0,771.3 L174.5,770.8 L175.0,770.4 L175.5,770.0 L176.0,770.3 L176.5,770.8 L177.0,771.2 L177.5,771.1 L178.0,770.5 L178.5,770.5 L179.0,770.5 L179.5,770.2 L180.0,769.7 L180.5,769.6 L181.0,769.9 L181.5,770.8 L182.0,770.9 L182.5,770.9 L183.0,770.3 L183.5,770.7 L184.0,770.7 L184.5,771.1 L185.0,770.8 L185.5,771.4 L186.0,771.3 L186.5,771.1 L187.0,770.9 L187.5,770.8 L188.0,771.1 L188.5,771.0 L189.0,771.5 L189.5,771.2 L190.0,771.3 L190.5,770.6 L191.0,770.7 L191.5,770.6 L192.0,770.8 L192.5,771.0 L193.0,770.9 L193.5,770.6 L194.0,770.7 L194.5,770.8 L195.0,770.8 L195.5,770.8 L196.0,771.1 L196.5,770.6 L197.0,770.2 L197.5,770.2 L198.0,771.2 L198.5,771.2 L199.0,771.4 L199.5,771.0 L200.0,771.0 L200.5,770.7 L201.0,770.9 L201.5,771.2 L202.0,771.4 L202.5,771.4 L203.0,771.6 L203.5,771.2 L204.0,771.1 L204.5,771.2 L205.0,771.4 L205.5,771.8 L206.0,771.2 L206.5,771.1 L207.0,770.8 L207.5,771.0 L208.0,770.9 L208.5,771.0 L209.0,771.1 L209.5,771.4 L210.0,771.4 L210.5,771.4 L211.0,771.2 L211.5,770.9 L212.0,770.2 L212.5,770.3 L213.0,770.9 L213.5,771.2 L214.0,770.8 L214.5,770.1 L215.0,769.7 L215.5,769.6 L216.0,769.3 L216.5,769.8 L217.0,769.5 L217.5,769.8 L218.0,770.0 L218.5,770.6 L219.0,770.4 L219.5,770.0 L220.0,769.2 L220.5,769.0 L221.0,768.7 L221.5,769.3 L222.0,769.2 L222.5,769.2 L223.0,768.8 L223.5,768.6 L224.0,768.3 L224.5,768.7 L225.0,768.9 L225.5,769.1 L226.0,768.9 L226.5,768.7 L227.0,768.9 L227.5,769.1 L228.0,769.8 L228.5,769.9 L229.0,769.5 L229.5,769.1 L230.0,768.7 L230.5,768.7 L231.0,768.9 L231.5,769.6 L232.0,770.4 L232.5,770.7 L233.0,770.8 L233.5,770.3 L234.0,770.6 L234.5,770.3 L235.0,770.4 L235.5,770.6 L236.0,771.0 L236.5,771.4 L237.0,771.3 L237.5,771.0 L238.0,771.1 L238.5,771.0 L239.0,771.4 L239.5,771.1 L240.0,771.3 L240.5,771.3 L241.0,771.9 L241.5,772.1 L242.0,772.0 L242.5,771.5 L243.0,770.7 L243.5,770.6 L244.0,771.1 L244.5,772.0 L245.0,771.3 L245.5,770.7 L246.0,770.1 L246.5,770.4 L247.0,770.6 L247.5,770.7 L248.0,770.8 L248.5,770.6 L249.0,770.2 L249.5,770.0 L250.0,769.7 L250.5,770.3 L251.0,770.0 L251.5,770.2 L252.0,770.1 L252.5,770.4 L253.0,770.6 L253.5,770.2 L254.0,770.2 L254.5,770.2 L255.0,770.9 L255.5,770.9 L256.0,770.9 L256.5,770.3 L257.0,770.0 L257.5,770.0 L258.0,770.1 L258.5,770.3 L259.0,770.0 L259.5,770.4 L260.0,770.6 L260.5,770.0 L261.0,769.9 L261.5,769.2 L262.0,769.5 L262.5,768.8 L263.0,768.7 L263.5,768.2 L264.0,767.8 L264.5,767.3 L265.0,767.5 L265.5,767.8 L266.0,768.1 L266.5,768.0 L267.0,767.5 L267.5,766.7 L268.0,766.6 L268.5,766.7 L269.0,767.2 L269.5,767.4 L270.0,767.3 L270.5,767.1 L271.0,766.1 L271.5,766.2 L272.0,766.2 L272.5,766.6 L273.0,766.5 L273.5,766.2 L274.0,766.2 L274.5,766.6 L275.0,767.0 L275.5,767.4 L276.0,767.0 L276.5,767.0 L277.0,766.8 L277.5,767.1 L278.0,766.9 L278.5,767.0 L279.0,766.3 L279.5,766.2 L280.0,765.4 L280.5,764.9 L281.0,765.4 L281.5,766.4 L282.0,766.8 L282.5,766.3 L283.0,766.0 L283.5,765.9 L284.0,766.3 L284.5,765.8 L285.0,765.9 L285.5,764.6 L286.0,765.3 L286.5,765.5 L287.0,766.6 L287.5,765.9 L288.0,765.9 L288.5,765.5 L289.0,765.7 L289.5,766.1 L290.0,766.7 L290.5,766.9 L291.0,766.2 L291.5,765.8 L292.0,765.7 L292.5,765.9 L293.0,765.8 L293.5,765.5 L294.0,765.1 L294.5,764.9 L295.0,765.1 L295.5,765.1 L296.0,764.9 L296.5,764.7 L297.0,764.5 L297.5,764.4 L298.0,763.6 L298.5,763.7 L299.0,763.3 L299.5,763.4 L300.0,763.4 L300.5,763.6 L301.0,763.7 L301.5,763.1 L302.0,763.5 L302.5,763.4 L303.0,763.6 L303.5,762.9 L304.0,763.0 L304.5,762.9 L305.0,762.8 L305.5,762.4 L306.0,762.7 L306.5,762.4 L307.0,762.4 L307.5,762.1 L308.0,762.0 L308.5,761.9 L309.0,761.5 L309.5,760.9 L310.0,760.4 L310.5,760.1 L311.0,760.1 L311.5,759.7 L312.0,760.0 L312.5,759.8 L313.0,759.6 L313.5,758.6 L314.0,758.7 L314.5,758.3 L315.0,757.9 L315.5,757.1 L316.0,757.1 L316.5,757.4 L317.0,757.2 L317.5,756.8 L318.0,756.8 L318.5,757.5 L319.0,757.4 L319.5,757.3 L320.0,757.4 L320.5,757.9 L321.0,758.2 L321.5,758.1 L322.0,758.2 L322.5,758.7 L323.0,759.3 L323.5,759.6 L324.0,760.0 L324.5,760.6 L325.0,761.4 L325.5,762.0 L326.0,761.9 L326.5,762.5 L327.0,762.3 L327.5,763.2 L328.0,763.0 L328.5,763.2 L329.0,762.6 L329.5,762.6 L330.0,762.7 L330.5,762.8 L331.0,762.8 L331.5,763.1 L332.0,763.5 L332.5,763.5 L333.0,763.6 L333.5,763.1 L334.0,762.9 L334.5,762.2 L335.0,762.6 L335.5,762.4 L336.0,762.3 L336.5,762.4 L337.0,763.3 L337.5,764.0 L338.0,763.2 L338.5,762.7 L339.0,762.5 L339.5,762.9 L340.0,762.4 L340.5,762.0 L341.0,761.5 L341.5,761.5 L342.0,762.1 L342.5,762.7 L343.0,762.6 L343.5,761.6 L344.0,761.5 L344.5,761.7 L345.0,762.2 L345.5,761.8 L346.0,761.9 L346.5,761.8 L347.0,761.6 L347.5,761.1 L348.0,760.7 L348.5,760.8 L349.0,761.2 L349.5,761.5 L350.0,761.6 L350.5,761.8 L351.0,761.6 L351.5,762.0 L352.0,762.4 L352.5,762.7 L353.0,762.4 L353.5,762.2 L354.0,762.3 L354.5,762.3 L355.0,762.0 L355.5,761.7 L356.0,761.4 L356.5,761.6 L357.0,762.2 L357.5,762.3 L358.0,762.2 L358.5,762.0 L359.0,762.3 L359.5,762.2 L360.0,762.1 L360.5,761.8 L361.0,762.0 L361.5,762.2 L362.0,763.4 L362.5,763.7 L363.0,763.8 L363.5,763.3 L364.0,763.7 L364.5,764.3 L365.0,764.4 L365.5,764.0 L366.0,763.3 L366.5,763.3 L367.0,763.3 L367.5,763.6 L368.0,764.3 L368.5,763.9 L369.0,764.1 L369.5,763.8 L370.0,764.5 L370.5,765.1 L371.0,764.7 L371.5,764.4 L372.0,764.0 L372.5,764.5 L373.0,764.6 L373.5,764.4 L374.0,764.7 L374.5,764.5 L375.0,764.5 L375.5,764.6 L376.0,765.4 L376.5,765.7 L377.0,765.1 L377.5,764.4 L378.0,763.9 L378.5,763.8 L379.0,763.9 L379.5,764.4 L380.0,764.7 L380.5,764.6 L381.0,764.0 L381.5,763.6 L382.0,764.0 L382.5,763.6 L383.0,764.0 L383.5,763.2 L384.0,763.4 L384.5,762.9 L385.0,763.4 L385.5,763.6 L386.0,764.7 L386.5,764.1 L387.0,763.7 L387.5,763.1 L388.0,763.4 L388.5,763.6 L389.0,762.8 L389.5,763.0 L390.0,763.1 L390.5,763.7 L391.0,763.1 L391.5,763.0 L392.0,762.7 L392.5,762.8 L393.0,762.5 L393.5,762.9 L394.0,762.7 L394.5,762.6 L395.0,762.5 L395.5,762.6 L396.0,762.6 L396.5,762.2 L397.0,762.3 L397.5,762.1 L398.0,762.2 L398.5,762.5 L399.0,762.7 L399.5,762.3 L400.0,761.4 L400.5,761.3 L401.0,761.2 L401.5,761.0 L402.0,760.8 L402.5,760.8 L403.0,761.4 L403.5,761.2 L404.0,761.9 L404.5,761.5 L405.0,761.9 L405.5,761.7 L406.0,761.9 L406.5,762.1 L407.0,761.6 L407.5,761.0 L408.0,760.7 L408.5,760.6 L409.0,761.0 L409.5,761.3 L410.0,761.7 L410.5,761.8 L411.0,761.2 L411.5,761.2 L412.0,761.3 L412.5,761.2 L413.0,761.4 L413.5,761.2 L414.0,761.7 L414.5,761.5 L415.0,762.0 L415.5,762.2 L416.0,762.4 L416.5,762.1 L417.0,762.0 L417.5,762.4 L418.0,762.7 L418.5,762.7 L419.0,762.4 L419.5,762.5 L420.0,762.1 L420.5,762.2 L421.0,761.5 L421.5,762.3 L422.0,762.1 L422.5,762.3 L423.0,761.7 L423.5,761.8 L424.0,762.1 L424.5,762.9 L425.0,762.5 L425.5,762.2 L426.0,762.8 L426.5,763.4 L427.0,763.6 L427.5,762.7 L428.0,761.7 L428.5,762.2 L429.0,762.1 L429.5,762.4 L430.0,762.3 L430.5,762.1 L431.0,762.2 L431.5,762.1 L432.0,762.4 L432.5,762.5 L433.0,762.4 L433.5,761.9 L434.0,761.6 L434.5,761.9 L435.0,762.6 L435.5,763.1 L436.0,762.9 L436.5,762.4 L437.0,762.2 L437.5,761.8 L438.0,762.3 L438.5,762.1 L439.0,762.4 L439.5,761.9 L440.0,761.6 L440.5,761.9 L441.0,761.7 L441.5,761.7 L442.0,761.1 L442.5,760.9 L443.0,761.0 L443.5,760.6 L444.0,760.8 L444.5,760.7 L445.0,760.5 L445.5,760.5 L446.0,760.4 L446.5,760.4 L447.0,760.1 L447.5,760.0 L448.0,760.7 L448.5,760.2 L449.0,760.2 L449.5,759.6 L450.0,759.9 L450.5,759.5 L451.0,759.4 L451.5,759.3 L452.0,758.9 L452.5,758.3 L453.0,758.1 L453.5,758.2 L454.0,758.8 L454.5,758.9 L455.0,758.9 L455.5,759.2 L456.0,759.0 L456.5,759.1 L457.0,759.0 L457.5,759.1 L458.0,759.1 L458.5,758.9 L459.0,758.5 L459.5,758.4 L460.0,758.4 L460.5,758.8 L461.0,758.9 L461.5,759.1 L462.0,759.4 L462.5,760.0 L463.0,759.8 L463.5,759.6 L464.0,759.2 L464.5,759.4 L465.0,759.3 L465.5,759.2 L466.0,759.0 L466.5,758.7 L467.0,758.3 L467.5,757.9 L468.0,757.8 L468.5,757.9 L469.0,757.7 L469.5,757.5 L470.0,757.3 L470.5,756.8 L471.0,756.3 L471.5,755.9 L472.0,756.0 L472.5,755.7 L473.0,755.8 L473.5,755.7 L474.0,755.8 L474.5,756.1 L475.0,755.8 L475.5,756.2 L476.0,755.7 L476.5,756.2 L477.0,756.5 L477.5,756.6 L478.0,756.7 L478.5,756.6 L479.0,756.7 L479.5,757.1 L480.0,757.3 L480.5,757.5 L481.0,757.0 L481.5,756.8 L482.0,756.8 L482.5,756.8 L483.0,757.0 L483.5,756.1 L484.0,755.4 L484.5,754.7 L485.0,754.5 L485.5,754.7 L486.0,754.3 L486.5,754.5 L487.0,754.3 L487.5,754.4 L488.0,754.0 L488.5,753.8 L489.0,753.2 L489.5,752.8 L490.0,752.1 L490.5,751.4 L491.0,750.3 L491.5,749.5 L492.0,749.3 L492.5,748.4 L493.0,748.2 L493.5,747.3 L494.0,747.4 L494.5,746.8 L495.0,746.1 L495.5,745.2 L496.0,743.9 L496.5,743.5 L497.0,742.9 L497.5,742.4 L498.0,742.0 L498.5,741.3 L499.0,741.3 L499.5,740.2 L500.0,739.9 L500.5,739.6 L501.0,739.5 L501.5,738.7 L502.0,738.3 L502.5,738.3 L503.0,738.2 L503.5,737.9 L504.0,737.0 L504.5,736.6 L505.0,736.0 L505.5,735.9 L506.0,736.3 L506.5,736.0 L507.0,735.5 L507.5,734.7 L508.0,734.0 L508.5,733.9 L509.0,733.6 L509.5,733.4 L510.0,732.8 L510.5,731.8 L511.0,731.4 L511.5,730.6 L512.0,730.4 L512.5,729.4 L513.0,728.2 L513.5,726.1 L514.0,725.2 L514.5,724.3 L515.0,723.4 L515.5,721.5 L516.0,719.6 L516.5,717.6 L517.0,716.1 L517.5,713.9 L518.0,711.2 L518.5,707.8 L519.0,704.2 L519.5,701.7 L520.0,698.9 L520.5,696.8 L521.0,693.9 L521.5,690.1 L522.0,685.6 L522.5,680.4 L523.0,675.7 L523.5,670.4 L524.0,665.7 L524.5,661.8 L525.0,659.6 L525.5,658.1 L526.0,658.5 L526.5,660.2 L527.0,663.6 L527.5,667.9 L528.0,673.0 L528.5,678.4 L529.0,683.9 L529.5,688.9 L530.0,692.9 L530.5,696.6 L531.0,699.7 L531.5,703.2 L532.0,706.9 L532.5,710.2 L533.0,712.9 L533.5,715.1 L534.0,717.8 L534.5,720.3 L535.0,722.6 L535.5,725.0 L536.0,726.8 L536.5,728.9 L537.0,730.6 L537.5,732.6 L538.0,735.0 L538.5,737.4 L539.0,740.0 L539.5,741.7 L540.0,743.6 L540.5,744.9 L541.0,745.6 L541.5,745.4 L542.0,745.8 L542.5,746.4 L543.0,747.3 L543.5,747.4 L544.0,747.5 L544.5,747.6 L545.0,747.3 L545.5,747.3 L546.0,747.2 L546.5,747.1 L547.0,746.4 L547.5,746.4 L548.0,746.2 L548.5,745.8 L549.0,744.6 L549.5,743.2 L550.0,742.3 L550.5,741.8 L551.0,742.4 L551.5,741.8 L552.0,741.4 L552.5,741.2 L553.0,741.7 L553.5,741.7 L554.0,741.2 L554.5,740.7 L555.0,740.2 L555.5,739.7 L556.0,739.6 L556.5,738.8 L557.0,738.5 L557.5,737.0 L558.0,735.8 L558.5,734.5 L559.0,732.7 L559.5,730.5 L560.0,726.6 L560.5,723.5 L561.0,719.8 L561.5,715.9 L562.0,711.0 L562.5,705.7 L563.0,699.1 L563.5,691.7 L564.0,682.7 L564.5,673.3 L565.0,659.9 L565.5,644.3 L566.0,626.7 L566.5,610.0 L567.0,595.9 L567.5,584.4 L568.0,572.3 L568.5,559.7 L569.0,548.1 L569.5,538.0 L570.0,530.2 L570.5,524.3 L571.0,521.6 L571.5,522.0 L572.0,524.3 L572.5,528.6 L573.0,533.8 L573.5,540.5 L574.0,547.0 L574.5,554.5 L575.0,562.5 L575.5,571.5 L576.0,580.0 L576.5,588.4 L577.0,596.2 L577.5,604.9 L578.0,613.6 L578.5,623.8 L579.0,633.9 L579.5,644.6 L580.0,653.7 L580.5,662.6 L581.0,670.4 L581.5,676.9 L582.0,682.7 L582.5,687.8 L583.0,693.5 L583.5,697.7 L584.0,702.2 L584.5,706.2 L585.0,710.5 L585.5,714.0 L586.0,716.1 L586.5,718.8 L587.0,720.1 L587.5,721.8 L588.0,722.5 L588.5,724.0 L589.0,724.9 L589.5,725.3 L590.0,725.4 L590.5,725.5 L591.0,725.8 L591.5,726.8 L592.0,727.2 L592.5,728.2 L593.0,728.1 L593.5,728.7 L594.0,729.1 L594.5,730.0 L595.0,730.4 L595.5,731.8 L596.0,732.7 L596.5,733.5 L597.0,734.7 L597.5,736.0 L598.0,737.7 L598.5,739.3 L599.0,740.3 L599.5,741.0 L600.0,740.7 L600.5,741.0 L601.0,741.4 L601.5,742.0 L602.0,742.2 L602.5,742.1 L603.0,741.9 L603.5,741.8 L604.0,741.9 L604.5,741.8 L605.0,741.9 L605.5,742.1 L606.0,741.9 L606.5,741.6 L607.0,741.4 L607.5,741.7 L608.0,741.7 L608.5,742.3 L609.0,742.1 L609.5,742.1 L610.0,741.9 L610.5,741.7 L611.0,741.9 L611.5,742.3 L612.0,742.9 L612.5,743.3 L613.0,743.7 L613.5,744.6 L614.0,745.2 L614.5,745.3 L615.0,745.4 L615.5,745.8 L616.0,746.0 L616.5,747.2 L617.0,747.5 L617.5,747.8 L618.0,747.3 L618.5,747.5 L619.0,747.5 L619.5,747.6 L620.0,748.2 L620.5,748.5 L621.0,748.9 L621.5,749.0 L622.0,750.0 L622.5,750.2 L623.0,750.5 L623.5,750.3 L624.0,751.2 L624.5,751.1 L625.0,751.3 L625.5,751.2 L626.0,751.3 L626.5,751.3 L627.0,751.7 L627.5,751.5 L628.0,752.0 L628.5,751.3 L629.0,750.9 L629.5,750.3 L630.0,750.3 L630.5,751.0 L631.0,751.8 L631.5,751.8 L632.0,751.5 L632.5,750.7 L633.0,750.6 L633.5,750.7 L634.0,750.5 L634.5,750.8 L635.0,751.0 L635.5,752.1 L636.0,751.5 L636.5,751.2 L637.0,750.5 L637.5,750.4 L638.0,750.1 L638.5,749.7 L639.0,750.2 L639.5,750.5 L640.0,750.9 L640.5,750.5 L641.0,749.6 L641.5,749.0 L642.0,748.7 L642.5,748.8 L643.0,748.5 L643.5,747.7 L644.0,747.3 L644.5,746.2 L645.0,746.0 L645.5,745.6 L646.0,745.6 L646.5,745.5 L647.0,744.9 L647.5,744.9 L648.0,745.0 L648.5,745.3 L649.0,745.4 L649.5,746.3 L650.0,747.0 L650.5,747.3 L651.0,746.6 L651.5,747.1 L652.0,746.7 L652.5,747.0 L653.0,746.8 L653.5,747.3 L654.0,747.4 L654.5,746.7 L655.0,746.6 L655.5,746.2 L656.0,746.1 L656.5,745.8 L657.0,745.4 L657.5,745.3 L658.0,744.8 L658.5,744.2 L659.0,743.5 L659.5,743.1 L660.0,742.5 L660.5,741.8 L661.0,741.2 L661.5,741.5 L662.0,741.7 L662.5,741.8 L663.0,742.4 L663.5,742.7 L664.0,742.7 L664.5,741.7 L665.0,741.7 L665.5,741.5 L666.0,741.9 L666.5,741.6 L667.0,742.1 L667.5,741.5 L668.0,741.4 L668.5,740.5 L669.0,740.5 L669.5,740.3 L670.0,740.8 L670.5,740.0 L671.0,739.6 L671.5,739.2 L672.0,739.2 L672.5,738.4 L673.0,737.8 L673.5,737.1 L674.0,737.1 L674.5,736.8 L675.0,736.8 L675.5,736.3 L676.0,735.4 L676.5,734.7 L677.0,734.7 L677.5,734.4 L678.0,734.1 L678.5,732.9 L679.0,732.6 L679.5,732.3 L680.0,732.4 L680.5,732.5 L681.0,732.2 L681.5,731.9 L682.0,730.9 L682.5,730.6 L683.0,730.2 L683.5,730.2 L684.0,729.7" stroke="#111" stroke-width="3.2"/>
<path d="M64.0,819.9 L64.5,819.8 L65.0,819.5 L65.5,819.2 L66.0,818.9 L66.5,818.7 L67.0,818.6 L67.5,818.6 L68.0,818.4 L68.5,818.2 L69.0,818.1 L69.5,817.8 L70.0,817.6 L70.5,817.3 L71.0,817.4 L71.5,817.4 L72.0,817.1 L72.5,816.8 L73.0,816.4 L73.5,816.2 L74.0,815.9 L74.5,815.6 L75.0,815.5 L75.5,815.5 L76.0,815.4 L76.5,815.3 L77.0,815.1 L77.5,814.9 L78.0,814.5 L78.5,814.5 L79.0,814.5 L79.5,814.7 L80.0,814.4 L80.5,814.1 L81.0,814.1 L81.5,814.0 L82.0,814.1 L82.5,814.0 L83.0,813.8 L83.5,813.5 L84.0,813.5 L84.5,813.4 L85.0,813.5 L85.5,813.4 L86.0,813.4 L86.5,813.4 L87.0,813.2 L87.5,813.3 L88.0,813.1 L88.5,813.1 L89.0,813.0 L89.5,813.2 L90.0,813.2 L90.5,813.1 L91.0,812.7 L91.5,812.6 L92.0,812.5 L92.5,812.5 L93.0,812.5 L93.5,812.6 L94.0,812.6 L94.5,812.5 L95.0,812.4 L95.5,812.4 L96.0,812.3 L96.5,812.2 L97.0,812.2 L97.5,812.2 L98.0,812.3 L98.5,812.2 L99.0,812.4 L99.5,812.4 L100.0,812.1 L100.5,811.8 L101.0,811.7 L101.5,812.0 L102.0,812.0 L102.5,812.1 L103.0,812.1 L103.5,812.0 L104.0,811.7 L104.5,811.4 L105.0,811.7 L105.5,811.7 L106.0,811.9 L106.5,811.6 L107.0,811.6 L107.5,811.7 L108.0,811.8 L108.5,811.8 L109.0,811.8 L109.5,812.0 L110.0,812.0 L110.5,812.0 L111.0,811.8 L111.5,811.8 L112.0,812.0 L112.5,812.1 L113.0,812.1 L113.5,812.1 L114.0,812.2 L114.5,812.2 L115.0,812.5 L115.5,812.7 L116.0,812.7 L116.5,812.5 L117.0,812.5 L117.5,812.8 L118.0,813.1 L118.5,812.9 L119.0,812.7 L119.5,812.5 L120.0,812.8 L120.5,812.8 L121.0,812.9 L121.5,813.0 L122.0,813.2 L122.5,813.1 L123.0,813.1 L123.5,813.0 L124.0,813.1 L124.5,813.3 L125.0,813.3 L125.5,813.5 L126.0,813.3 L126.5,813.5 L127.0,813.5 L127.5,813.5 L128.0,813.4 L128.5,813.2 L129.0,813.2 L129.5,813.2 L130.0,813.2 L130.5,813.2 L131.0,813.1 L131.5,813.1 L132.0,813.1 L132.5,813.0 L133.0,813.0 L133.5,812.9 L134.0,812.9 L134.5,812.8 L135.0,812.9 L135.5,812.6 L136.0,812.4 L136.5,812.3 L137.0,812.3 L137.5,812.4 L138.0,812.3 L138.5,812.3 L139.0,812.2 L139.5,812.1 L140.0,812.1 L140.5,811.8 L141.0,811.8 L141.5,811.5 L142.0,811.7 L142.5,811.2 L143.0,811.1 L143.5,810.8 L144.0,811.0 L144.5,811.0 L145.0,810.9 L145.5,810.6 L146.0,810.4 L146.5,810.1 L147.0,809.8 L147.5,809.4 L148.0,809.4 L148.5,809.1 L149.0,808.8 L149.5,808.5 L150.0,808.2 L150.5,808.2 L151.0,807.8 L151.5,807.5 L152.0,807.2 L152.5,806.9 L153.0,806.5 L153.5,806.1 L154.0,805.7 L154.5,805.4 L155.0,804.9 L155.5,804.5 L156.0,804.3 L156.5,803.9 L157.0,803.5 L157.5,802.9 L158.0,802.5 L158.5,802.2 L159.0,801.9 L159.5,801.6 L160.0,801.0 L160.5,800.4 L161.0,799.5 L161.5,799.2 L162.0,798.7 L162.5,798.3 L163.0,797.6 L163.5,796.9 L164.0,796.2 L164.5,795.8 L165.0,795.5 L165.5,794.9 L166.0,794.3 L166.5,793.4 L167.0,792.7 L167.5,791.8 L168.0,791.0 L168.5,790.3 L169.0,789.3 L169.5,788.4 L170.0,787.2 L170.5,786.1 L171.0,784.7 L171.5,782.9 L172.0,780.6 L172.5,778.0 L173.0,775.6 L173.5,773.2 L174.0,770.5 L174.5,767.7 L175.0,765.1 L175.5,762.6 L176.0,760.3 L176.5,757.7 L177.0,755.2 L177.5,751.7 L178.0,747.7 L178.5,741.0 L179.0,731.4 L179.5,721.4 L180.0,714.2 L180.5,707.5 L181.0,701.4 L181.5,694.4 L182.0,686.6 L182.5,678.1 L183.0,668.1 L183.5,655.2 L184.0,631.2 L184.5,612.4 L185.0,598.1 L185.5,585.0 L186.0,573.0 L186.5,562.9 L187.0,555.0 L187.5,550.2 L188.0,548.5 L188.5,549.5 L189.0,552.1 L189.5,556.4 L190.0,562.3 L190.5,569.9 L191.0,578.8 L191.5,589.6 L192.0,601.5 L192.5,615.2 L193.0,642.7 L193.5,666.9 L194.0,682.4 L194.5,694.1 L195.0,703.8 L195.5,712.1 L196.0,719.5 L196.5,726.3 L197.0,732.6 L197.5,738.5 L198.0,744.4 L198.5,750.0 L199.0,755.8 L199.5,761.7 L200.0,767.9 L200.5,773.2 L201.0,777.6 L201.5,780.0 L202.0,782.3 L202.5,783.8 L203.0,785.0 L203.5,785.7 L204.0,786.3 L204.5,786.6 L205.0,786.6 L205.5,786.4 L206.0,785.9 L206.5,785.6 L207.0,785.4 L207.5,785.6 L208.0,785.2 L208.5,785.2 L209.0,784.8 L209.5,784.8 L210.0,784.8 L210.5,784.8 L211.0,784.8 L211.5,784.6 L212.0,784.4 L212.5,784.3 L213.0,784.1 L213.5,784.4 L214.0,784.4 L214.5,784.5 L215.0,784.4 L215.5,784.5 L216.0,784.6 L216.5,784.6 L217.0,785.1 L217.5,785.6 L218.0,786.3 L218.5,787.0 L219.0,787.4 L219.5,788.2 L220.0,788.6 L220.5,789.3 L221.0,790.0 L221.5,791.0 L222.0,791.9 L222.5,792.9 L223.0,793.7 L223.5,795.2 L224.0,796.5 L224.5,797.9 L225.0,799.0 L225.5,800.1 L226.0,800.8 L226.5,801.3 L227.0,801.8 L227.5,802.8 L228.0,803.3 L228.5,804.0 L229.0,804.3 L229.5,804.9 L230.0,805.3 L230.5,805.8 L231.0,806.2 L231.5,806.5 L232.0,806.8 L232.5,807.1 L233.0,807.5 L233.5,808.0 L234.0,808.4 L234.5,808.9 L235.0,809.1 L235.5,809.6 L236.0,809.8 L236.5,810.0 L237.0,810.2 L237.5,810.5 L238.0,810.9 L238.5,811.2 L239.0,811.5 L239.5,811.8 L240.0,812.0 L240.5,812.3 L241.0,812.6 L241.5,812.6 L242.0,812.7 L242.5,812.9 L243.0,813.1 L243.5,813.2 L244.0,813.6 L244.5,814.0 L245.0,814.2 L245.5,814.3 L246.0,814.2 L246.5,814.3 L247.0,814.4 L247.5,814.6 L248.0,814.9 L248.5,815.1 L249.0,815.0 L249.5,814.7 L250.0,814.8 L250.5,815.1 L251.0,815.5 L251.5,815.5 L252.0,815.5 L252.5,815.8 L253.0,815.7 L253.5,815.8 L254.0,815.7 L254.5,815.7 L255.0,815.6 L255.5,815.5 L256.0,815.4 L256.5,815.5 L257.0,815.5 L257.5,815.5 L258.0,815.4 L258.5,815.3 L259.0,815.6 L259.5,815.7 L260.0,815.9 L260.5,815.6 L261.0,815.6 L261.5,815.7 L262.0,815.8 L262.5,816.0 L263.0,816.1 L263.5,816.3 L264.0,816.4 L264.5,816.3 L265.0,816.2 L265.5,816.1 L266.0,816.3 L266.5,816.2 L267.0,816.2 L267.5,815.9 L268.0,815.9 L268.5,816.0 L269.0,816.3 L269.5,816.5 L270.0,816.5 L270.5,816.4 L271.0,816.4 L271.5,816.5 L272.0,816.7 L272.5,817.0 L273.0,817.2 L273.5,817.1 L274.0,816.9 L274.5,817.0 L275.0,817.1 L275.5,817.1 L276.0,817.3 L276.5,817.4 L277.0,817.6 L277.5,817.5 L278.0,817.5 L278.5,817.7 L279.0,817.8 L279.5,818.0 L280.0,818.1 L280.5,818.4 L281.0,818.6 L281.5,818.6 L282.0,818.4 L282.5,818.5 L283.0,818.7 L283.5,818.8 L284.0,818.9 L284.5,818.8 L285.0,818.7 L285.5,818.6 L286.0,818.8 L286.5,819.2 L287.0,819.4 L287.5,819.4 L288.0,819.2 L288.5,819.2 L289.0,819.3 L289.5,819.2 L290.0,819.3 L290.5,819.2 L291.0,819.4 L291.5,819.4 L292.0,819.6 L292.5,819.7 L293.0,819.7 L293.5,819.6 L294.0,819.4 L294.5,819.4 L295.0,819.6 L295.5,819.6 L296.0,819.3 L296.5,819.3 L297.0,819.7 L297.5,820.0 L298.0,820.0 L298.5,819.8 L299.0,819.4 L299.5,819.4 L300.0,819.4 L300.5,819.8 L301.0,819.7 L301.5,819.8 L302.0,819.7 L302.5,820.1 L303.0,820.0 L303.5,819.9 L304.0,819.7 L304.5,819.8 L305.0,819.9 L305.5,819.9 L306.0,819.9 L306.5,819.8 L307.0,820.0 L307.5,820.1 L308.0,819.9 L308.5,819.8 L309.0,819.9 L309.5,820.1 L310.0,820.0 L310.5,819.9 L311.0,819.8 L311.5,819.8 L312.0,820.0 L312.5,820.2 L313.0,820.4 L313.5,820.3 L314.0,820.4 L314.5,820.2 L315.0,820.2 L315.5,820.3 L316.0,820.4 L316.5,820.4 L317.0,820.1 L317.5,819.9 L318.0,819.8 L318.5,820.0 L319.0,819.9 L319.5,819.9 L320.0,819.8 L320.5,820.1 L321.0,820.0 L321.5,820.2 L322.0,820.2 L322.5,820.1 L323.0,819.8 L323.5,819.8 L324.0,820.0 L324.5,820.1 L325.0,820.0 L325.5,819.9 L326.0,819.8 L326.5,819.7 L327.0,819.8 L327.5,819.5 L328.0,819.5 L328.5,819.6 L329.0,819.8 L329.5,819.7 L330.0,819.8 L330.5,820.0 L331.0,820.1 L331.5,819.8 L332.0,819.6 L332.5,819.6 L333.0,819.6 L333.5,819.6 L334.0,819.6 L334.5,819.6 L335.0,819.5 L335.5,819.2 L336.0,819.3 L336.5,819.4 L337.0,819.2 L337.5,819.4 L338.0,819.5 L338.5,819.7 L339.0,819.5 L339.5,819.4 L340.0,819.6 L340.5,819.6 L341.0,819.6 L341.5,819.3 L342.0,819.4 L342.5,819.2 L343.0,819.1 L343.5,819.0 L344.0,819.1 L344.5,819.4 L345.0,819.3 L345.5,819.4 L346.0,819.3 L346.5,819.5 L347.0,819.3 L347.5,819.5 L348.0,819.3 L348.5,819.3 L349.0,819.2 L349.5,819.0 L350.0,818.9 L350.5,819.0 L351.0,819.0 L351.5,819.0 L352.0,818.8 L352.5,819.1 L353.0,819.1 L353.5,819.0 L354.0,818.8 L354.5,818.7 L355.0,818.8 L355.5,818.9 L356.0,819.0 L356.5,818.9 L357.0,818.8 L357.5,818.8 L358.0,818.7 L358.5,818.6 L359.0,818.6 L359.5,818.5 L360.0,818.7 L360.5,818.8 L361.0,819.1 L361.5,819.2 L362.0,818.9 L362.5,818.7 L363.0,818.4 L363.5,818.4 L364.0,818.2 L364.5,818.1 L365.0,818.2 L365.5,818.5 L366.0,818.7 L366.5,818.7 L367.0,818.7 L367.5,818.5 L368.0,818.3 L368.5,818.3 L369.0,818.5 L369.5,818.4 L370.0,818.3 L370.5,818.1 L371.0,818.3 L371.5,818.4 L372.0,818.4 L372.5,818.1 L373.0,818.1 L373.5,817.9 L374.0,818.0 L374.5,817.8 L375.0,817.9 L375.5,818.0 L376.0,818.1 L376.5,818.4 L377.0,818.4 L377.5,818.4 L378.0,818.0 L378.5,817.8 L379.0,817.8 L379.5,818.1 L380.0,818.1 L380.5,818.0 L381.0,817.9 L381.5,818.0 L382.0,817.7 L382.5,817.7 L383.0,817.7 L383.5,818.0 L384.0,817.8 L384.5,817.9 L385.0,817.9 L385.5,817.9 L386.0,817.9 L386.5,817.7 L387.0,817.7 L387.5,817.5 L388.0,817.5 L388.5,817.5 L389.0,817.7 L389.5,817.7 L390.0,817.7 L390.5,817.7 L391.0,817.8 L391.5,818.0 L392.0,817.8 L392.5,817.8 L393.0,817.7 L393.5,817.6 L394.0,817.5 L394.5,817.6 L395.0,817.7 L395.5,817.7 L396.0,817.5 L396.5,817.5 L397.0,817.4 L397.5,817.5 L398.0,817.5 L398.5,817.6 L399.0,817.6 L399.5,817.6 L400.0,817.6 L400.5,817.7 L401.0,817.8 L401.5,817.7 L402.0,817.5 L402.5,817.4 L403.0,817.5 L403.5,817.7 L404.0,817.5 L404.5,817.3 L405.0,817.1 L405.5,817.1 L406.0,817.4 L406.5,817.5 L407.0,817.7 L407.5,817.6 L408.0,817.7 L408.5,817.6 L409.0,817.7 L409.5,817.5 L410.0,817.5 L410.5,817.6 L411.0,817.7 L411.5,817.8 L412.0,817.6 L412.5,817.6 L413.0,817.6 L413.5,817.7 L414.0,817.6 L414.5,817.4 L415.0,817.3 L415.5,817.4 L416.0,817.5 L416.5,817.6 L417.0,817.6 L417.5,817.4 L418.0,817.2 L418.5,817.4 L419.0,817.5 L419.5,817.6 L420.0,817.3 L420.5,817.4 L421.0,817.3 L421.5,817.4 L422.0,817.5 L422.5,817.4 L423.0,817.5 L423.5,817.3 L424.0,817.5 L424.5,817.3 L425.0,817.4 L425.5,817.2 L426.0,817.1 L426.5,816.9 L427.0,816.9 L427.5,817.0 L428.0,817.1 L428.5,817.3 L429.0,817.3 L429.5,817.3 L430.0,817.2 L430.5,817.3 L431.0,817.1 L431.5,817.1 L432.0,817.3 L432.5,817.3 L433.0,817.2 L433.5,817.2 L434.0,817.1 L434.5,817.1 L435.0,817.1 L435.5,817.4 L436.0,817.3 L436.5,817.2 L437.0,817.0 L437.5,817.0 L438.0,817.1 L438.5,817.1 L439.0,817.1 L439.5,817.1 L440.0,817.2 L440.5,817.0 L441.0,817.1 L441.5,816.8 L442.0,817.1 L442.5,817.2 L443.0,817.3 L443.5,817.2 L444.0,817.1 L444.5,817.2 L445.0,817.2 L445.5,817.2 L446.0,817.2 L446.5,817.2 L447.0,817.1 L447.5,817.0 L448.0,816.9 L448.5,816.7 L449.0,816.9 L449.5,817.1 L450.0,817.1 L450.5,817.0 L451.0,816.9 L451.5,816.8 L452.0,816.7 L452.5,816.6 L453.0,817.0 L453.5,817.2 L454.0,817.3 L454.5,817.2 L455.0,817.1 L455.5,816.9 L456.0,816.9 L456.5,816.9 L457.0,816.9 L457.5,816.8 L458.0,816.9 L458.5,817.2 L459.0,817.3 L459.5,817.0 L460.0,816.8 L460.5,816.6 L461.0,816.8 L461.5,816.7 L462.0,816.6 L462.5,816.3 L463.0,816.4 L463.5,816.6 L464.0,816.6 L464.5,816.5 L465.0,816.4 L465.5,816.6 L466.0,816.5 L466.5,816.5 L467.0,816.4 L467.5,816.6 L468.0,816.7 L468.5,816.7 L469.0,816.7 L469.5,816.7 L470.0,816.7 L470.5,816.7 L471.0,816.5 L471.5,816.3 L472.0,816.2 L472.5,816.1 L473.0,816.1 L473.5,816.0 L474.0,815.9 L474.5,815.9 L475.0,815.8 L475.5,816.0 L476.0,816.0 L476.5,816.1 L477.0,816.2 L477.5,816.3 L478.0,816.1 L478.5,815.7 L479.0,815.5 L479.5,815.5 L480.0,815.4 L480.5,815.3 L481.0,815.2 L481.5,815.3 L482.0,815.5 L482.5,815.8 L483.0,815.6 L483.5,815.4 L484.0,815.0 L484.5,814.8 L485.0,814.8 L485.5,814.8 L486.0,814.8 L486.5,814.8 L487.0,814.6 L487.5,814.7 L488.0,814.4 L488.5,814.5 L489.0,814.2 L489.5,814.2 L490.0,814.0 L490.5,813.8 L491.0,813.6 L491.5,813.4 L492.0,813.3 L492.5,813.2 L493.0,813.0 L493.5,812.7 L494.0,812.5 L494.5,812.4 L495.0,812.3 L495.5,812.3 L496.0,812.2 L496.5,812.2 L497.0,812.1 L497.5,811.8 L498.0,811.9 L498.5,811.7 L499.0,811.9 L499.5,811.7 L500.0,811.9 L500.5,811.9 L501.0,811.8 L501.5,811.8 L502.0,811.9 L502.5,812.2 L503.0,812.3 L503.5,812.5 L504.0,812.5 L504.5,812.7 L505.0,812.7 L505.5,812.7 L506.0,812.6 L506.5,812.8 L507.0,812.9 L507.5,813.1 L508.0,813.2 L508.5,813.2 L509.0,813.2 L509.5,813.3 L510.0,813.2 L510.5,813.5 L511.0,813.2 L511.5,813.2 L512.0,812.8 L512.5,812.9 L513.0,813.0 L513.5,813.0 L514.0,812.8 L514.5,812.8 L515.0,812.8 L515.5,812.6 L516.0,812.3 L516.5,812.0 L517.0,811.9 L517.5,811.9 L518.0,811.7 L518.5,811.3 L519.0,810.8 L519.5,810.3 L520.0,810.2 L520.5,809.7 L521.0,809.5 L521.5,809.0 L522.0,808.9 L522.5,808.7 L523.0,808.3 L523.5,807.8 L524.0,807.7 L524.5,807.7 L525.0,807.9 L525.5,808.0 L526.0,808.5 L526.5,809.0 L527.0,809.2 L527.5,809.6 L528.0,810.0 L528.5,810.5 L529.0,810.8 L529.5,811.0 L530.0,811.3 L530.5,811.6 L531.0,812.1 L531.5,812.5 L532.0,812.7 L532.5,812.7 L533.0,812.8 L533.5,812.7 L534.0,812.8 L534.5,812.8 L535.0,813.3 L535.5,813.4 L536.0,813.3 L536.5,813.0 L537.0,813.0 L537.5,813.0 L538.0,813.0 L538.5,813.1 L539.0,813.0 L539.5,813.1 L540.0,813.0 L540.5,812.9 L541.0,812.8 L541.5,812.9 L542.0,812.9 L542.5,813.0 L543.0,812.9 L543.5,812.9 L544.0,812.7 L544.5,812.5 L545.0,812.4 L545.5,812.5 L546.0,812.5 L546.5,812.5 L547.0,812.3 L547.5,812.1 L548.0,812.2 L548.5,812.2 L549.0,812.1 L549.5,812.0 L550.0,811.8 L550.5,811.8 L551.0,811.8 L551.5,811.6 L552.0,811.3 L552.5,811.0 L553.0,810.8 L553.5,811.1 L554.0,810.9 L554.5,810.9 L555.0,810.7 L555.5,810.6 L556.0,810.5 L556.5,810.4 L557.0,810.3 L557.5,810.2 L558.0,810.2 L558.5,809.9 L559.0,809.3 L559.5,808.9 L560.0,808.3 L560.5,808.2 L561.0,807.9 L561.5,807.7 L562.0,807.1 L562.5,806.3 L563.0,805.7 L563.5,805.5 L564.0,805.1 L564.5,804.7 L565.0,804.0 L565.5,803.4 L566.0,802.6 L566.5,802.1 L567.0,801.3 L567.5,800.7 L568.0,800.2 L568.5,800.1 L569.0,799.9 L569.5,799.7 L570.0,799.5 L570.5,799.8 L571.0,799.9 L571.5,800.4 L572.0,800.6 L572.5,800.9 L573.0,801.0 L573.5,801.2 L574.0,801.5 L574.5,801.8 L575.0,802.1 L575.5,802.4 L576.0,802.9 L576.5,803.6 L577.0,804.3 L577.5,805.0 L578.0,805.8 L578.5,807.0 L579.0,808.1 L579.5,808.9 L580.0,809.7 L580.5,810.4 L581.0,811.3 L581.5,812.0 L582.0,812.6 L582.5,813.0 L583.0,813.4 L583.5,813.7 L584.0,814.0 L584.5,814.2 L585.0,814.4 L585.5,814.7 L586.0,815.1 L586.5,815.4 L587.0,815.7 L587.5,815.9 L588.0,816.3 L588.5,816.5 L589.0,816.8 L589.5,816.8 L590.0,817.0 L590.5,817.0 L591.0,816.9 L591.5,817.0 L592.0,817.0 L592.5,817.2 L593.0,817.1 L593.5,817.2 L594.0,817.2 L594.5,817.3 L595.0,816.9 L595.5,816.9 L596.0,816.7 L596.5,817.0 L597.0,817.1 L597.5,817.1 L598.0,817.1 L598.5,816.7 L599.0,816.8 L599.5,816.9 L600.0,817.2 L600.5,817.1 L601.0,817.0 L601.5,817.1 L602.0,817.2 L602.5,817.4 L603.0,817.2 L603.5,817.0 L604.0,816.9 L604.5,817.0 L605.0,817.1 L605.5,817.1 L606.0,816.9 L606.5,816.8 L607.0,816.7 L607.5,816.6 L608.0,816.7 L608.5,816.9 L609.0,817.2 L609.5,817.1 L610.0,816.9 L610.5,816.7 L611.0,816.6 L611.5,816.8 L612.0,817.2 L612.5,817.3 L613.0,817.1 L613.5,816.9 L614.0,817.0 L614.5,817.1 L615.0,817.0 L615.5,817.0 L616.0,817.0 L616.5,817.0 L617.0,816.9 L617.5,816.9 L618.0,817.0 L618.5,817.0 L619.0,816.9 L619.5,816.9 L620.0,816.9 L620.5,817.0 L621.0,817.0 L621.5,817.1 L622.0,817.2 L622.5,817.0 L623.0,817.0 L623.5,817.0 L624.0,817.3 L624.5,817.2 L625.0,817.3 L625.5,817.1 L626.0,817.0 L626.5,816.8 L627.0,816.7 L627.5,816.9 L628.0,816.9 L628.5,817.0 L629.0,817.0 L629.5,817.2 L630.0,817.3 L630.5,817.4 L631.0,817.1 L631.5,817.0 L632.0,816.9 L632.5,817.1 L633.0,817.2 L633.5,817.1 L634.0,817.0 L634.5,816.7 L635.0,816.9 L635.5,816.7 L636.0,816.9 L636.5,817.0 L637.0,817.2 L637.5,817.0 L638.0,817.0 L638.5,816.8 L639.0,817.0 L639.5,817.1 L640.0,817.2 L640.5,817.0 L641.0,816.8 L641.5,816.8 L642.0,817.0 L642.5,817.0 L643.0,816.7 L643.5,816.7 L644.0,816.7 L644.5,817.0 L645.0,817.0 L645.5,817.1 L646.0,817.1 L646.5,817.0 L647.0,816.9 L647.5,816.9 L648.0,817.0 L648.5,817.1 L649.0,817.0 L649.5,817.0 L650.0,817.0 L650.5,816.7 L651.0,816.8 L651.5,816.8 L652.0,817.0 L652.5,816.6 L653.0,816.8 L653.5,816.9 L654.0,817.1 L654.5,817.1 L655.0,816.8 L655.5,816.9 L656.0,816.6 L656.5,817.1 L657.0,816.8 L657.5,816.9 L658.0,816.5 L658.5,816.9 L659.0,817.1 L659.5,817.2 L660.0,817.1 L660.5,817.2 L661.0,817.1 L661.5,817.2 L662.0,817.1 L662.5,817.1 L663.0,816.9 L663.5,816.9 L664.0,817.1 L664.5,817.0 L665.0,816.9 L665.5,817.0 L666.0,817.1 L666.5,817.2 L667.0,817.0 L667.5,817.0 L668.0,817.1 L668.5,817.2 L669.0,817.4 L669.5,817.2 L670.0,817.1 L670.5,817.0 L671.0,817.1 L671.5,817.0 L672.0,816.9 L672.5,817.0 L673.0,816.9 L673.5,817.0 L674.0,816.8 L674.5,816.8 L675.0,816.8 L675.5,816.7 L676.0,816.9 L676.5,816.9 L677.0,816.9 L677.5,817.0 L678.0,816.9 L678.5,817.1 L679.0,817.0 L679.5,817.0 L680.0,816.8 L680.5,816.8 L681.0,817.0 L681.5,817.2 L682.0,817.2 L682.5,816.9 L683.0,816.7 L683.5,816.7 L684.0,816.8" stroke="#e0332f" stroke-width="3.2"/>
</g>
<rect x="64.1" y="401" width="620.8" height="435.9" fill="none" stroke="#000" stroke-width="2.3"/>
<path d="M90.9,837V829.0 M115.6,837V829.0 M140.3,837V829.0 M165.0,837V829.0 M189.7,837V823.5 M214.4,837V829.0 M239.1,837V829.0 M263.8,837V829.0 M288.5,837V829.0 M313.2,837V823.5 M337.9,837V829.0 M362.6,837V829.0 M387.3,837V829.0 M412.0,837V829.0 M436.7,837V823.5 M461.4,837V829.0 M486.1,837V829.0 M510.8,837V829.0 M535.5,837V829.0 M560.2,837V823.5 M584.9,837V829.0 M609.6,837V829.0 M634.3,837V829.0 M659.0,837V829.0 M64,808.1H71 M64,779.3H76 M64,750.5H71 M64,721.7H76 M64,692.9H71 M64,664.1H76 M64,635.3H71 M64,606.5H76 M64,577.7H71 M64,548.9H76 M64,520.1H71 M64,491.3H76 M64,462.5H71 M64,433.7H76" stroke="#000" stroke-width="2"/>
<text x="64.4" y="877" font-size="33" text-anchor="middle">200</text>
<text x="189.7" y="877" font-size="33" text-anchor="middle">250</text>
<text x="313.2" y="877" font-size="33" text-anchor="middle">300</text>
<text x="436.7" y="877" font-size="33" text-anchor="middle">350</text>
<text x="560.2" y="877" font-size="33" text-anchor="middle">400</text>
<text x="683.7" y="877" font-size="33" text-anchor="middle">450</text>
<text x="236" y="925.3" font-size="34.3">Raman shift (cm<tspan font-size="23" dy="-14">-1</tspan><tspan dy="14">)</tspan></text>
<text transform="translate(48.7,619.2) rotate(-90)" font-size="34.3" text-anchor="middle">Normalized</text>
<text x="0" y="433.5" class="b" font-size="33.5">(c)</text>
<line x1="205" y1="423.6" x2="236" y2="423.6" stroke="#60ba46" stroke-width="3.2"/>
<line x1="205" y1="461.3" x2="236" y2="461.3" stroke="#2a56a8" stroke-width="3.2"/>
<line x1="205" y1="500.2" x2="236" y2="500.2" stroke="#e6392e" stroke-width="3.2"/>
<text x="242" y="433.3" class="b" font-size="29.6">Monolayer WSe<tspan font-size="21" dy="5">2</tspan></text>
<text x="242" y="471.3" class="b" font-size="29.6">Monolayer MoS<tspan font-size="21" dy="5">2</tspan></text>
<text x="242" y="510.5" class="b" font-size="29.6">MoS<tspan font-size="21" dy="5">2</tspan><tspan dy="-5">/WSe</tspan><tspan font-size="21" dy="5">2</tspan><tspan dy="-5"> Heterojunction</tspan></text>
<clipPath id="cp"><rect x="822" y="402" width="642" height="440"/></clipPath>
<g clip-path="url(#cp)" fill="none" stroke-linejoin="round" stroke-linecap="round">
<path d="M822.0,734.4 L822.5,734.2 L823.0,734.4 L823.5,734.4 L824.0,734.3 L824.5,734.1 L825.0,733.7 L825.5,733.7 L826.0,733.5 L826.5,733.6 L827.0,733.5 L827.5,733.0 L828.0,732.2 L828.5,731.9 L829.0,732.0 L829.5,731.9 L830.0,731.8 L830.5,731.4 L831.0,731.3 L831.5,730.8 L832.0,730.4 L832.5,729.9 L833.0,729.5 L833.5,729.3 L834.0,729.4 L834.5,729.2 L835.0,728.7 L835.5,728.3 L836.0,728.2 L836.5,728.0 L837.0,727.8 L837.5,727.3 L838.0,727.1 L838.5,727.1 L839.0,727.3 L839.5,727.3 L840.0,726.8 L840.5,726.6 L841.0,726.6 L841.5,726.5 L842.0,726.2 L842.5,725.7 L843.0,725.4 L843.5,725.1 L844.0,724.8 L844.5,724.7 L845.0,724.3 L845.5,724.1 L846.0,723.6 L846.5,723.5 L847.0,723.4 L847.5,723.3 L848.0,722.9 L848.5,722.6 L849.0,722.1 L849.5,721.8 L850.0,721.4 L850.5,721.4 L851.0,721.4 L851.5,721.3 L852.0,721.1 L852.5,720.9 L853.0,720.5 L853.5,720.1 L854.0,719.7 L854.5,719.6 L855.0,719.3 L855.5,719.1 L856.0,718.5 L856.5,718.1 L857.0,717.8 L857.5,717.8 L858.0,717.5 L858.5,717.1 L859.0,716.7 L859.5,716.6 L860.0,716.7 L860.5,716.8 L861.0,716.4 L861.5,716.4 L862.0,716.2 L862.5,716.0 L863.0,715.6 L863.5,715.3 L864.0,715.2 L864.5,714.9 L865.0,714.8 L865.5,714.4 L866.0,714.1 L866.5,713.9 L867.0,713.9 L867.5,713.6 L868.0,713.2 L868.5,712.6 L869.0,712.7 L869.5,712.6 L870.0,712.7 L870.5,712.2 L871.0,712.2 L871.5,711.8 L872.0,711.7 L872.5,711.4 L873.0,711.3 L873.5,711.0 L874.0,710.9 L874.5,710.8 L875.0,710.9 L875.5,711.0 L876.0,710.7 L876.5,710.3 L877.0,709.5 L877.5,709.2 L878.0,709.2 L878.5,709.3 L879.0,709.3 L879.5,709.1 L880.0,708.8 L880.5,708.3 L881.0,708.2 L881.5,708.2 L882.0,708.5 L882.5,708.1 L883.0,708.0 L883.5,707.6 L884.0,707.4 L884.5,707.1 L885.0,707.1 L885.5,707.1 L886.0,707.1 L886.5,706.4 L887.0,706.0 L887.5,705.8 L888.0,706.2 L888.5,706.2 L889.0,705.9 L889.5,705.5 L890.0,705.3 L890.5,705.2 L891.0,705.5 L891.5,705.5 L892.0,705.6 L892.5,705.4 L893.0,705.6 L893.5,705.5 L894.0,705.3 L894.5,704.8 L895.0,704.6 L895.5,704.4 L896.0,704.3 L896.5,704.5 L897.0,704.6 L897.5,704.9 L898.0,704.6 L898.5,704.7 L899.0,704.3 L899.5,704.4 L900.0,704.4 L900.5,704.7 L901.0,704.9 L901.5,705.0 L902.0,704.9 L902.5,704.7 L903.0,704.2 L903.5,703.9 L904.0,704.0 L904.5,703.8 L905.0,703.8 L905.5,703.6 L906.0,703.4 L906.5,703.9 L907.0,704.2 L907.5,704.1 L908.0,703.7 L908.5,703.4 L909.0,703.4 L909.5,703.3 L910.0,703.4 L910.5,703.8 L911.0,704.0 L911.5,703.8 L912.0,703.7 L912.5,703.6 L913.0,703.8 L913.5,703.8 L914.0,703.7 L914.5,703.8 L915.0,703.5 L915.5,703.3 L916.0,703.3 L916.5,703.6 L917.0,704.0 L917.5,703.8 L918.0,703.6 L918.5,703.3 L919.0,703.3 L919.5,703.3 L920.0,703.4 L920.5,703.3 L921.0,703.5 L921.5,703.7 L922.0,703.9 L922.5,703.7 L923.0,703.6 L923.5,703.5 L924.0,703.6 L924.5,703.2 L925.0,703.1 L925.5,703.1 L926.0,703.4 L926.5,703.3 L927.0,703.2 L927.5,703.4 L928.0,703.6 L928.5,703.8 L929.0,703.8 L929.5,703.8 L930.0,703.6 L930.5,703.3 L931.0,703.0 L931.5,703.2 L932.0,703.4 L932.5,703.8 L933.0,703.7 L933.5,703.7 L934.0,703.3 L934.5,703.2 L935.0,703.6 L935.5,703.7 L936.0,703.6 L936.5,703.2 L937.0,703.5 L937.5,703.6 L938.0,703.5 L938.5,703.2 L939.0,703.1 L939.5,703.3 L940.0,703.6 L940.5,704.0 L941.0,704.3 L941.5,704.2 L942.0,703.8 L942.5,703.4 L943.0,703.4 L943.5,703.6 L944.0,703.9 L944.5,703.8 L945.0,703.7 L945.5,703.5 L946.0,703.5 L946.5,703.3 L947.0,703.4 L947.5,703.4 L948.0,703.6 L948.5,703.6 L949.0,703.5 L949.5,703.5 L950.0,703.6 L950.5,703.8 L951.0,703.4 L951.5,703.5 L952.0,703.2 L952.5,703.1 L953.0,702.7 L953.5,702.4 L954.0,702.3 L954.5,702.1 L955.0,702.3 L955.5,702.1 L956.0,702.0 L956.5,701.6 L957.0,701.9 L957.5,701.6 L958.0,701.5 L958.5,701.3 L959.0,700.8 L959.5,700.4 L960.0,699.7 L960.5,699.5 L961.0,699.3 L961.5,699.2 L962.0,699.2 L962.5,698.7 L963.0,698.4 L963.5,697.9 L964.0,697.5 L964.5,697.1 L965.0,696.5 L965.5,696.3 L966.0,696.1 L966.5,695.8 L967.0,695.3 L967.5,694.5 L968.0,694.1 L968.5,693.7 L969.0,693.4 L969.5,693.3 L970.0,692.8 L970.5,692.6 L971.0,692.0 L971.5,691.4 L972.0,690.9 L972.5,690.7 L973.0,690.5 L973.5,690.1 L974.0,689.5 L974.5,689.1 L975.0,688.9 L975.5,688.6 L976.0,688.1 L976.5,687.6 L977.0,687.2 L977.5,686.9 L978.0,686.6 L978.5,685.7 L979.0,685.5 L979.5,685.3 L980.0,685.5 L980.5,684.7 L981.0,684.3 L981.5,684.2 L982.0,684.3 L982.5,683.5 L983.0,682.6 L983.5,682.2 L984.0,682.0 L984.5,681.9 L985.0,681.7 L985.5,680.9 L986.0,680.3 L986.5,679.8 L987.0,680.1 L987.5,679.6 L988.0,679.1 L988.5,678.3 L989.0,678.1 L989.5,677.6 L990.0,677.4 L990.5,677.0 L991.0,677.0 L991.5,676.6 L992.0,676.3 L992.5,676.0 L993.0,675.8 L993.5,675.3 L994.0,674.7 L994.5,674.3 L995.0,674.1 L995.5,673.7 L996.0,673.3 L996.5,672.9 L997.0,672.6 L997.5,671.8 L998.0,671.8 L998.5,672.0 L999.0,672.5 L999.5,672.4 L1000.0,672.0 L1000.5,671.6 L1001.0,671.4 L1001.5,671.3 L1002.0,671.3 L1002.5,671.2 L1003.0,671.0 L1003.5,671.0 L1004.0,671.0 L1004.5,671.1 L1005.0,671.1 L1005.5,671.1 L1006.0,670.9 L1006.5,670.6 L1007.0,670.1 L1007.5,670.1 L1008.0,670.4 L1008.5,670.9 L1009.0,670.8 L1009.5,671.1 L1010.0,671.1 L1010.5,671.4 L1011.0,671.6 L1011.5,672.0 L1012.0,672.5 L1012.5,672.8 L1013.0,673.2 L1013.5,673.7 L1014.0,674.1 L1014.5,674.4 L1015.0,674.6 L1015.5,675.0 L1016.0,675.5 L1016.5,676.1 L1017.0,677.0 L1017.5,677.8 L1018.0,678.2 L1018.5,678.4 L1019.0,678.8 L1019.5,679.5 L1020.0,680.1 L1020.5,680.4 L1021.0,681.1 L1021.5,681.3 L1022.0,682.0 L1022.5,682.1 L1023.0,682.5 L1023.5,682.8 L1024.0,683.9 L1024.5,685.0 L1025.0,685.7 L1025.5,685.8 L1026.0,686.4 L1026.5,687.1 L1027.0,687.9 L1027.5,688.6 L1028.0,689.5 L1028.5,690.3 L1029.0,690.6 L1029.5,690.9 L1030.0,691.1 L1030.5,691.4 L1031.0,692.3 L1031.5,692.8 L1032.0,693.7 L1032.5,694.1 L1033.0,694.8 L1033.5,695.4 L1034.0,696.0 L1034.5,696.5 L1035.0,697.1 L1035.5,697.7 L1036.0,698.2 L1036.5,698.7 L1037.0,699.0 L1037.5,699.8 L1038.0,700.2 L1038.5,700.9 L1039.0,701.3 L1039.5,701.6 L1040.0,702.1 L1040.5,702.6 L1041.0,703.3 L1041.5,703.7 L1042.0,704.3 L1042.5,704.8 L1043.0,705.3 L1043.5,705.7 L1044.0,705.9 L1044.5,706.5 L1045.0,707.3 L1045.5,708.1 L1046.0,708.5 L1046.5,709.2 L1047.0,709.5 L1047.5,710.4 L1048.0,710.6 L1048.5,710.9 L1049.0,711.1 L1049.5,711.7 L1050.0,712.4 L1050.5,713.2 L1051.0,713.4 L1051.5,713.9 L1052.0,714.2 L1052.5,715.0 L1053.0,715.2 L1053.5,715.7 L1054.0,715.9 L1054.5,716.8 L1055.0,717.1 L1055.5,717.9 L1056.0,718.1 L1056.5,718.9 L1057.0,719.2 L1057.5,719.9 L1058.0,720.4 L1058.5,721.4 L1059.0,721.8 L1059.5,722.2 L1060.0,722.2 L1060.5,722.6 L1061.0,723.4 L1061.5,724.1 L1062.0,724.6 L1062.5,724.8 L1063.0,725.5 L1063.5,725.8 L1064.0,726.6 L1064.5,727.0 L1065.0,727.9 L1065.5,728.1 L1066.0,728.8 L1066.5,729.1 L1067.0,729.7 L1067.5,729.8 L1068.0,730.1 L1068.5,730.4 L1069.0,730.9 L1069.5,731.5 L1070.0,731.9 L1070.5,732.2 L1071.0,732.5 L1071.5,732.8 L1072.0,733.3 L1072.5,733.7 L1073.0,734.3 L1073.5,734.8 L1074.0,735.6 L1074.5,736.1 L1075.0,736.3 L1075.5,736.5 L1076.0,736.6 L1076.5,737.1 L1077.0,737.3 L1077.5,738.1 L1078.0,738.3 L1078.5,738.8 L1079.0,738.8 L1079.5,739.4 L1080.0,739.8 L1080.5,740.2 L1081.0,740.8 L1081.5,741.1 L1082.0,741.4 L1082.5,741.3 L1083.0,741.3 L1083.5,741.6 L1084.0,742.1 L1084.5,742.4 L1085.0,743.2 L1085.5,743.3 L1086.0,743.9 L1086.5,744.5 L1087.0,745.1 L1087.5,745.5 L1088.0,745.8 L1088.5,746.2 L1089.0,746.7 L1089.5,746.7 L1090.0,747.0 L1090.5,747.3 L1091.0,747.8 L1091.5,748.1 L1092.0,748.5 L1092.5,749.0 L1093.0,749.6 L1093.5,749.9 L1094.0,750.0 L1094.5,750.4 L1095.0,750.9 L1095.5,751.2 L1096.0,751.0 L1096.5,751.1 L1097.0,751.9 L1097.5,752.9 L1098.0,753.1 L1098.5,753.5 L1099.0,753.4 L1099.5,754.3 L1100.0,754.2 L1100.5,755.0 L1101.0,755.3 L1101.5,755.7 L1102.0,756.0 L1102.5,756.1 L1103.0,756.4 L1103.5,756.5 L1104.0,756.8 L1104.5,757.5 L1105.0,758.1 L1105.5,758.7 L1106.0,758.6 L1106.5,758.8 L1107.0,759.3 L1107.5,760.1 L1108.0,760.3 L1108.5,760.5 L1109.0,761.1 L1109.5,761.3 L1110.0,761.6 L1110.5,761.0 L1111.0,761.5 L1111.5,761.7 L1112.0,762.5 L1112.5,763.1 L1113.0,763.5 L1113.5,764.0 L1114.0,764.1 L1114.5,764.5 L1115.0,764.1 L1115.5,764.7 L1116.0,765.4 L1116.5,766.0 L1117.0,766.0 L1117.5,765.5 L1118.0,766.0 L1118.5,766.1 L1119.0,767.2 L1119.5,767.6 L1120.0,768.6 L1120.5,768.5 L1121.0,768.2 L1121.5,768.3 L1122.0,768.7 L1122.5,770.3 L1123.0,770.8 L1123.5,771.9 L1124.0,771.7 L1124.5,771.9 L1125.0,771.0 L1125.5,771.0 L1126.0,771.7 L1126.5,772.7 L1127.0,773.3 L1127.5,773.5 L1128.0,773.2 L1128.5,773.5 L1129.0,773.3 L1129.5,774.2 L1130.0,774.9 L1130.5,774.7 L1131.0,774.9 L1131.5,774.7 L1132.0,776.4 L1132.5,776.8 L1133.0,776.5 L1133.5,776.7 L1134.0,777.1 L1134.5,776.9 L1135.0,776.9 L1135.5,776.0 L1136.0,775.8 L1136.5,775.5 L1137.0,776.1 L1137.5,776.5 L1138.0,778.1 L1138.5,778.1 L1139.0,779.5 L1139.5,779.1 L1140.0,781.0 L1140.5,780.9 L1141.0,781.5 L1141.5,780.0 L1142.0,780.3 L1142.5,779.5 L1143.0,779.7 L1143.5,780.0 L1144.0,781.4 L1144.5,783.2 L1145.0,783.5 L1145.5,782.1 L1146.0,780.7 L1146.5,780.8 L1147.0,781.8 L1147.5,782.7 L1148.0,782.4 L1148.5,781.7 L1149.0,781.8 L1149.5,782.0 L1150.0,783.5 L1150.5,783.0 L1151.0,783.6 L1151.5,783.7 L1152.0,785.4 L1152.5,786.2 L1153.0,785.0 L1153.5,783.3 L1154.0,782.4 L1154.5,782.6 L1155.0,782.0 L1155.5,782.9 L1156.0,783.9 L1156.5,786.1 L1157.0,785.5 L1157.5,786.0 L1158.0,785.7 L1158.5,785.8 L1159.0,786.5 L1159.5,785.7 L1160.0,786.1 L1160.5,784.0 L1161.0,785.8 L1161.5,785.5 L1162.0,785.9 L1162.5,783.9 L1163.0,784.0 L1163.5,786.2 L1164.0,787.8 L1164.5,787.1 L1165.0,784.6 L1165.5,786.2 L1166.0,787.0 L1166.5,787.6 L1167.0,785.8 L1167.5,786.8 L1168.0,789.0 L1168.5,788.9 L1169.0,788.1 L1169.5,787.6 L1170.0,787.3 L1170.5,788.1 L1171.0,787.9 L1171.5,789.2 L1172.0,788.6 L1172.5,788.5" stroke="#111" stroke-width="3.2"/>
<path d="M822.0,805.5 L822.5,805.7 L823.0,805.1 L823.5,804.3 L824.0,804.0 L824.5,804.6 L825.0,806.6 L825.5,806.8 L826.0,807.6 L826.5,805.9 L827.0,805.3 L827.5,804.3 L828.0,804.8 L828.5,804.3 L829.0,804.9 L829.5,803.5 L830.0,804.0 L830.5,802.8 L831.0,802.7 L831.5,802.7 L832.0,802.7 L832.5,802.4 L833.0,800.6 L833.5,800.1 L834.0,799.3 L834.5,799.6 L835.0,798.2 L835.5,798.3 L836.0,797.0 L836.5,797.0 L837.0,797.4 L837.5,798.3 L838.0,797.7 L838.5,796.2 L839.0,793.9 L839.5,793.9 L840.0,794.2 L840.5,794.2 L841.0,793.2 L841.5,792.3 L842.0,792.1 L842.5,792.2 L843.0,792.4 L843.5,792.5 L844.0,792.3 L844.5,792.1 L845.0,791.6 L845.5,791.2 L846.0,790.0 L846.5,789.1 L847.0,789.2 L847.5,788.1 L848.0,788.1 L848.5,786.6 L849.0,786.4 L849.5,785.5 L850.0,785.5 L850.5,785.7 L851.0,786.4 L851.5,785.4 L852.0,784.9 L852.5,783.9 L853.0,784.1 L853.5,783.6 L854.0,783.5 L854.5,783.4 L855.0,783.1 L855.5,783.5 L856.0,783.3 L856.5,783.1 L857.0,781.7 L857.5,781.7 L858.0,781.2 L858.5,781.2 L859.0,780.4 L859.5,780.3 L860.0,779.8 L860.5,779.4 L861.0,778.8 L861.5,778.7 L862.0,778.9 L862.5,779.3 L863.0,779.6 L863.5,779.9 L864.0,779.3 L864.5,778.4 L865.0,778.0 L865.5,777.7 L866.0,778.0 L866.5,777.8 L867.0,777.6 L867.5,777.3 L868.0,777.2 L868.5,777.3 L869.0,776.9 L869.5,776.4 L870.0,776.2 L870.5,776.0 L871.0,775.9 L871.5,775.6 L872.0,775.4 L872.5,775.0 L873.0,774.9 L873.5,774.7 L874.0,774.8 L874.5,774.2 L875.0,774.1 L875.5,773.9 L876.0,774.2 L876.5,774.3 L877.0,774.2 L877.5,774.1 L878.0,773.7 L878.5,773.2 L879.0,772.7 L879.5,772.5 L880.0,772.5 L880.5,772.8 L881.0,772.9 L881.5,772.7 L882.0,772.5 L882.5,772.3 L883.0,772.1 L883.5,771.8 L884.0,771.7 L884.5,771.5 L885.0,771.1 L885.5,770.9 L886.0,770.6 L886.5,771.1 L887.0,771.3 L887.5,771.2 L888.0,770.6 L888.5,770.2 L889.0,769.9 L889.5,770.2 L890.0,770.0 L890.5,770.1 L891.0,769.9 L891.5,770.1 L892.0,770.1 L892.5,770.0 L893.0,769.3 L893.5,769.0 L894.0,768.5 L894.5,768.4 L895.0,768.6 L895.5,769.1 L896.0,769.1 L896.5,768.7 L897.0,768.3 L897.5,768.4 L898.0,768.4 L898.5,767.9 L899.0,767.9 L899.5,767.6 L900.0,767.9 L900.5,767.8 L901.0,768.0 L901.5,767.6 L902.0,767.3 L902.5,767.3 L903.0,767.2 L903.5,766.9 L904.0,766.3 L904.5,766.3 L905.0,766.4 L905.5,767.0 L906.0,766.8 L906.5,766.4 L907.0,766.4 L907.5,766.8 L908.0,766.8 L908.5,766.4 L909.0,765.8 L909.5,765.9 L910.0,766.2 L910.5,766.7 L911.0,766.5 L911.5,766.2 L912.0,765.9 L912.5,766.1 L913.0,765.9 L913.5,766.1 L914.0,766.3 L914.5,766.4 L915.0,766.3 L915.5,766.1 L916.0,766.1 L916.5,765.9 L917.0,765.8 L917.5,765.5 L918.0,765.8 L918.5,765.8 L919.0,765.9 L919.5,765.5 L920.0,765.2 L920.5,765.0 L921.0,765.1 L921.5,765.2 L922.0,765.1 L922.5,764.8 L923.0,764.9 L923.5,765.1 L924.0,765.1 L924.5,764.7 L925.0,764.4 L925.5,765.0 L926.0,765.1 L926.5,765.3 L927.0,764.5 L927.5,764.2 L928.0,764.3 L928.5,764.1 L929.0,764.1 L929.5,763.9 L930.0,763.7 L930.5,763.8 L931.0,763.3 L931.5,763.3 L932.0,763.2 L932.5,763.3 L933.0,762.9 L933.5,762.5 L934.0,762.6 L934.5,762.5 L935.0,762.2 L935.5,762.1 L936.0,762.3 L936.5,762.4 L937.0,762.1 L937.5,762.0 L938.0,762.0 L938.5,762.0 L939.0,761.4 L939.5,761.2 L940.0,760.6 L940.5,761.1 L941.0,760.7 L941.5,760.9 L942.0,760.4 L942.5,760.2 L943.0,760.1 L943.5,759.8 L944.0,760.1 L944.5,759.8 L945.0,759.6 L945.5,759.4 L946.0,759.3 L946.5,759.0 L947.0,758.1 L947.5,757.9 L948.0,757.9 L948.5,758.0 L949.0,757.3 L949.5,756.6 L950.0,755.9 L950.5,755.9 L951.0,755.7 L951.5,755.7 L952.0,754.7 L952.5,754.7 L953.0,754.1 L953.5,753.6 L954.0,752.9 L954.5,752.8 L955.0,753.3 L955.5,752.6 L956.0,751.9 L956.5,751.3 L957.0,751.2 L957.5,751.0 L958.0,750.4 L958.5,750.3 L959.0,749.7 L959.5,749.5 L960.0,748.9 L960.5,748.8 L961.0,748.5 L961.5,748.4 L962.0,748.0 L962.5,748.0 L963.0,747.1 L963.5,746.5 L964.0,745.9 L964.5,745.8 L965.0,744.9 L965.5,744.4 L966.0,743.8 L966.5,744.4 L967.0,743.9 L967.5,743.7 L968.0,742.5 L968.5,742.2 L969.0,741.1 L969.5,740.6 L970.0,739.9 L970.5,739.7 L971.0,739.6 L971.5,739.3 L972.0,739.4 L972.5,738.5 L973.0,737.8 L973.5,737.1 L974.0,736.8 L974.5,736.6 L975.0,736.1 L975.5,735.5 L976.0,734.9 L976.5,734.4 L977.0,734.0 L977.5,733.5 L978.0,732.7 L978.5,732.1 L979.0,731.9 L979.5,731.9 L980.0,731.1 L980.5,730.2 L981.0,729.3 L981.5,729.3 L982.0,728.9 L982.5,728.9 L983.0,728.6 L983.5,727.8 L984.0,727.0 L984.5,726.2 L985.0,726.1 L985.5,725.1 L986.0,724.6 L986.5,724.1 L987.0,724.3 L987.5,723.9 L988.0,723.3 L988.5,723.0 L989.0,722.8 L989.5,722.8 L990.0,722.0 L990.5,721.4 L991.0,720.6 L991.5,720.0 L992.0,719.0 L992.5,718.6 L993.0,717.9 L993.5,718.0 L994.0,717.3 L994.5,717.3 L995.0,716.7 L995.5,716.3 L996.0,715.7 L996.5,715.3 L997.0,715.5 L997.5,715.4 L998.0,715.1 L998.5,714.7 L999.0,714.1 L999.5,713.5 L1000.0,712.9 L1000.5,713.1 L1001.0,713.1 L1001.5,713.0 L1002.0,712.6 L1002.5,712.3 L1003.0,712.3 L1003.5,712.3 L1004.0,712.0 L1004.5,711.3 L1005.0,710.9 L1005.5,710.7 L1006.0,710.7 L1006.5,710.7 L1007.0,710.7 L1007.5,710.6 L1008.0,710.1 L1008.5,709.8 L1009.0,709.4 L1009.5,709.6 L1010.0,709.5 L1010.5,709.5 L1011.0,709.2 L1011.5,709.3 L1012.0,709.1 L1012.5,708.6 L1013.0,708.9 L1013.5,708.6 L1014.0,709.0 L1014.5,708.3 L1015.0,708.6 L1015.5,708.2 L1016.0,708.7 L1016.5,708.7 L1017.0,708.5 L1017.5,708.5 L1018.0,708.1 L1018.5,708.3 L1019.0,708.2 L1019.5,708.6 L1020.0,708.9 L1020.5,708.8 L1021.0,708.8 L1021.5,708.8 L1022.0,708.9 L1022.5,709.0 L1023.0,709.0 L1023.5,709.0 L1024.0,709.0 L1024.5,708.7 L1025.0,709.4 L1025.5,710.2 L1026.0,710.2 L1026.5,709.9 L1027.0,709.8 L1027.5,710.2 L1028.0,710.3 L1028.5,710.0 L1029.0,710.1 L1029.5,710.3 L1030.0,710.6 L1030.5,710.8 L1031.0,710.7 L1031.5,710.6 L1032.0,710.5 L1032.5,710.6 L1033.0,711.0 L1033.5,711.2 L1034.0,711.9 L1034.5,711.7 L1035.0,711.8 L1035.5,711.5 L1036.0,712.1 L1036.5,712.2 L1037.0,712.6 L1037.5,712.5 L1038.0,712.8 L1038.5,713.1 L1039.0,713.7 L1039.5,714.3 L1040.0,714.2 L1040.5,714.5 L1041.0,714.7 L1041.5,715.3 L1042.0,715.4 L1042.5,715.5 L1043.0,715.6 L1043.5,716.0 L1044.0,716.6 L1044.5,716.9 L1045.0,717.0 L1045.5,717.2 L1046.0,717.2 L1046.5,717.8 L1047.0,718.0 L1047.5,718.8 L1048.0,718.7 L1048.5,718.8 L1049.0,718.7 L1049.5,719.2 L1050.0,719.4 L1050.5,720.0 L1051.0,720.3 L1051.5,720.5 L1052.0,720.8 L1052.5,721.0 L1053.0,721.5 L1053.5,721.6 L1054.0,721.8 L1054.5,721.9 L1055.0,722.3 L1055.5,722.8 L1056.0,723.5 L1056.5,723.7 L1057.0,724.1 L1057.5,724.5 L1058.0,724.7 L1058.5,725.0 L1059.0,725.7 L1059.5,726.1 L1060.0,726.4 L1060.5,726.3 L1061.0,726.6 L1061.5,727.2 L1062.0,727.6 L1062.5,728.0 L1063.0,728.0 L1063.5,728.5 L1064.0,728.9 L1064.5,729.4 L1065.0,729.6 L1065.5,730.3 L1066.0,730.7 L1066.5,731.3 L1067.0,731.6 L1067.5,732.0 L1068.0,732.5 L1068.5,732.4 L1069.0,733.0 L1069.5,732.8 L1070.0,733.4 L1070.5,733.6 L1071.0,734.4 L1071.5,735.0 L1072.0,735.7 L1072.5,736.5 L1073.0,737.0 L1073.5,737.4 L1074.0,737.8 L1074.5,738.0 L1075.0,738.7 L1075.5,739.3 L1076.0,739.6 L1076.5,739.5 L1077.0,739.6 L1077.5,740.1 L1078.0,741.0 L1078.5,741.7 L1079.0,742.5 L1079.5,742.5 L1080.0,742.7 L1080.5,743.1 L1081.0,743.3 L1081.5,743.6 L1082.0,743.3 L1082.5,743.9 L1083.0,745.0 L1083.5,745.6 L1084.0,746.3 L1084.5,746.4 L1085.0,746.7 L1085.5,746.7 L1086.0,746.7 L1086.5,747.2 L1087.0,747.3 L1087.5,747.3 L1088.0,747.7 L1088.5,748.1 L1089.0,748.6 L1089.5,748.7 L1090.0,749.0 L1090.5,749.1 L1091.0,749.0 L1091.5,749.1 L1092.0,749.3 L1092.5,749.2 L1093.0,749.5 L1093.5,749.7 L1094.0,750.4 L1094.5,750.6 L1095.0,750.7 L1095.5,751.1 L1096.0,751.3 L1096.5,751.5 L1097.0,751.2 L1097.5,751.4 L1098.0,751.4 L1098.5,751.5 L1099.0,751.5 L1099.5,751.5 L1100.0,751.6 L1100.5,751.6 L1101.0,752.3 L1101.5,752.3 L1102.0,753.0 L1102.5,752.8 L1103.0,753.3 L1103.5,753.4 L1104.0,753.0 L1104.5,753.3 L1105.0,753.2 L1105.5,753.5 L1106.0,753.1 L1106.5,753.1 L1107.0,752.9 L1107.5,753.5 L1108.0,753.5 L1108.5,754.0 L1109.0,753.8 L1109.5,753.8 L1110.0,753.6 L1110.5,753.5 L1111.0,753.9 L1111.5,754.0 L1112.0,754.3 L1112.5,754.2 L1113.0,754.4 L1113.5,754.4 L1114.0,754.6 L1114.5,754.4 L1115.0,754.2 L1115.5,753.9 L1116.0,754.0 L1116.5,754.2 L1117.0,754.5 L1117.5,754.8 L1118.0,754.9 L1118.5,754.5 L1119.0,754.4 L1119.5,754.3 L1120.0,754.6 L1120.5,754.4 L1121.0,754.3 L1121.5,754.1 L1122.0,753.8 L1122.5,753.7 L1123.0,753.6 L1123.5,753.6 L1124.0,753.8 L1124.5,753.7 L1125.0,753.3 L1125.5,753.2 L1126.0,753.3 L1126.5,753.1 L1127.0,752.5 L1127.5,752.2 L1128.0,752.2 L1128.5,751.8 L1129.0,751.6 L1129.5,751.3 L1130.0,751.5 L1130.5,751.2 L1131.0,750.8 L1131.5,750.3 L1132.0,750.0 L1132.5,750.0 L1133.0,749.9 L1133.5,749.7 L1134.0,749.4 L1134.5,749.3 L1135.0,748.6 L1135.5,748.2 L1136.0,747.9 L1136.5,747.7 L1137.0,747.3 L1137.5,746.8 L1138.0,746.6 L1138.5,746.3 L1139.0,745.7 L1139.5,745.7 L1140.0,745.6 L1140.5,745.9 L1141.0,745.1 L1141.5,744.8 L1142.0,744.1 L1142.5,744.0 L1143.0,743.3 L1143.5,743.2 L1144.0,742.8 L1144.5,742.7 L1145.0,741.9 L1145.5,741.8 L1146.0,741.1 L1146.5,741.2 L1147.0,740.4 L1147.5,740.1 L1148.0,739.1 L1148.5,739.0 L1149.0,738.4 L1149.5,737.8 L1150.0,736.8 L1150.5,736.4 L1151.0,736.1 L1151.5,735.5 L1152.0,734.9 L1152.5,734.4 L1153.0,734.0 L1153.5,733.2 L1154.0,732.0 L1154.5,731.4 L1155.0,730.7 L1155.5,729.8 L1156.0,728.6 L1156.5,727.1 L1157.0,726.7 L1157.5,725.7 L1158.0,725.4 L1158.5,724.8 L1159.0,723.9 L1159.5,723.3 L1160.0,722.2 L1160.5,721.4 L1161.0,720.7 L1161.5,720.0 L1162.0,719.3 L1162.5,718.4 L1163.0,717.4 L1163.5,716.5 L1164.0,715.5 L1164.5,715.1 L1165.0,714.1 L1165.5,713.1 L1166.0,712.3 L1166.5,711.6 L1167.0,711.0 L1167.5,710.0 L1168.0,709.2 L1168.5,708.3 L1169.0,707.5 L1169.5,706.9 L1170.0,706.4 L1170.5,705.7 L1171.0,705.0 L1171.5,704.1 L1172.0,703.2 L1172.5,702.3 L1173.0,701.6 L1173.5,701.0 L1174.0,700.0 L1174.5,699.1 L1175.0,698.1 L1175.5,697.0 L1176.0,696.3 L1176.5,695.4 L1177.0,694.7 L1177.5,693.7 L1178.0,693.5 L1178.5,692.6 L1179.0,692.2 L1179.5,690.6 L1180.0,689.8 L1180.5,689.1 L1181.0,688.7 L1181.5,688.0 L1182.0,686.7 L1182.5,685.5 L1183.0,684.7 L1183.5,684.1 L1184.0,683.9 L1184.5,683.4 L1185.0,682.3 L1185.5,681.4 L1186.0,679.8 L1186.5,678.9 L1187.0,678.0 L1187.5,677.8 L1188.0,677.4 L1188.5,676.9 L1189.0,675.9 L1189.5,674.7 L1190.0,673.5 L1190.5,672.6 L1191.0,671.9 L1191.5,671.3 L1192.0,670.5 L1192.5,669.3 L1193.0,668.0 L1193.5,667.8 L1194.0,667.6 L1194.5,666.9 L1195.0,665.5 L1195.5,664.6 L1196.0,663.9 L1196.5,663.2 L1197.0,661.9 L1197.5,660.7 L1198.0,659.9 L1198.5,659.6 L1199.0,659.2 L1199.5,658.6 L1200.0,657.7 L1200.5,656.9 L1201.0,655.8 L1201.5,655.2 L1202.0,654.2 L1202.5,653.8 L1203.0,652.6 L1203.5,652.1 L1204.0,651.1 L1204.5,650.9 L1205.0,649.8 L1205.5,648.7 L1206.0,647.7 L1206.5,647.3 L1207.0,647.0 L1207.5,645.9 L1208.0,645.0 L1208.5,644.2 L1209.0,644.2 L1209.5,643.7 L1210.0,643.0 L1210.5,642.4 L1211.0,641.4 L1211.5,641.0 L1212.0,640.0 L1212.5,639.8 L1213.0,638.9 L1213.5,638.9 L1214.0,638.2 L1214.5,638.0 L1215.0,637.5 L1215.5,637.3 L1216.0,636.9 L1216.5,636.6 L1217.0,635.9 L1217.5,635.4 L1218.0,634.8 L1218.5,634.6 L1219.0,634.0 L1219.5,633.0 L1220.0,632.4 L1220.5,631.9 L1221.0,632.0 L1221.5,631.5 L1222.0,631.2 L1222.5,630.8 L1223.0,630.7 L1223.5,630.6 L1224.0,630.4 L1224.5,630.2 L1225.0,629.4 L1225.5,628.9 L1226.0,628.4 L1226.5,628.2 L1227.0,628.1 L1227.5,627.9 L1228.0,628.1 L1228.5,627.8 L1229.0,627.8 L1229.5,627.0 L1230.0,626.8 L1230.5,626.5 L1231.0,626.5 L1231.5,625.8 L1232.0,625.4 L1232.5,625.2 L1233.0,625.2 L1233.5,624.9 L1234.0,624.6 L1234.5,624.7 L1235.0,624.9 L1235.5,624.5 L1236.0,624.1 L1236.5,624.0 L1237.0,624.3 L1237.5,624.7 L1238.0,624.3 L1238.5,624.1 L1239.0,623.2 L1239.5,623.2 L1240.0,622.7 L1240.5,622.8 L1241.0,622.5 L1241.5,622.8 L1242.0,623.3 L1242.5,623.4 L1243.0,623.1 L1243.5,623.0 L1244.0,623.0 L1244.5,623.1 L1245.0,623.0 L1245.5,623.4 L1246.0,623.3 L1246.5,622.7 L1247.0,622.4 L1247.5,622.6 L1248.0,623.1 L1248.5,623.1 L1249.0,622.8 L1249.5,623.0 L1250.0,623.2 L1250.5,623.5 L1251.0,623.4 L1251.5,623.7 L1252.0,623.8 L1252.5,623.8 L1253.0,623.4 L1253.5,623.3 L1254.0,623.4 L1254.5,623.9 L1255.0,624.2 L1255.5,624.2 L1256.0,624.1 L1256.5,624.2 L1257.0,624.2 L1257.5,624.3 L1258.0,624.0 L1258.5,624.2 L1259.0,624.6 L1259.5,625.1 L1260.0,625.3 L1260.5,625.2 L1261.0,625.3 L1261.5,625.1 L1262.0,624.9 L1262.5,624.8 L1263.0,625.3 L1263.5,625.7 L1264.0,626.4 L1264.5,626.5 L1265.0,626.3 L1265.5,626.1 L1266.0,626.3 L1266.5,626.8 L1267.0,626.9 L1267.5,627.3 L1268.0,627.3 L1268.5,627.6 L1269.0,627.9 L1269.5,628.3 L1270.0,628.6 L1270.5,628.5 L1271.0,628.8 L1271.5,629.0 L1272.0,629.2 L1272.5,629.2 L1273.0,629.4 L1273.5,629.8 L1274.0,629.9 L1274.5,630.6 L1275.0,631.1 L1275.5,631.5 L1276.0,631.5 L1276.5,631.6 L1277.0,631.9 L1277.5,632.0 L1278.0,632.3 L1278.5,632.2 L1279.0,632.8 L1279.5,633.3 L1280.0,633.9 L1280.5,634.1 L1281.0,633.7 L1281.5,633.8 L1282.0,634.0 L1282.5,634.9 L1283.0,634.8 L1283.5,635.0 L1284.0,635.3 L1284.5,635.8 L1285.0,635.8 L1285.5,635.8 L1286.0,635.7 L1286.5,636.2 L1287.0,636.5 L1287.5,637.3 L1288.0,637.6 L1288.5,638.0 L1289.0,638.7 L1289.5,638.9 L1290.0,639.2 L1290.5,638.8 L1291.0,639.2 L1291.5,639.2 L1292.0,640.1 L1292.5,640.5 L1293.0,641.1 L1293.5,641.5 L1294.0,641.7 L1294.5,642.1 L1295.0,642.1 L1295.5,642.5 L1296.0,642.8 L1296.5,643.2 L1297.0,643.8 L1297.5,643.9 L1298.0,644.1 L1298.5,644.8 L1299.0,645.4 L1299.5,646.0 L1300.0,646.2 L1300.5,646.3 L1301.0,646.8 L1301.5,646.9 L1302.0,647.5 L1302.5,647.9 L1303.0,648.6 L1303.5,649.0 L1304.0,649.3 L1304.5,650.0 L1305.0,650.4 L1305.5,650.5 L1306.0,650.4 L1306.5,651.0 L1307.0,651.5 L1307.5,652.2 L1308.0,652.2 L1308.5,653.0 L1309.0,653.6 L1309.5,654.3 L1310.0,654.3 L1310.5,654.5 L1311.0,655.0 L1311.5,655.4 L1312.0,655.5 L1312.5,656.0 L1313.0,656.8 L1313.5,657.4 L1314.0,657.6 L1314.5,658.0 L1315.0,658.7 L1315.5,659.5 L1316.0,660.1 L1316.5,660.3 L1317.0,660.5 L1317.5,660.9 L1318.0,661.7 L1318.5,662.1 L1319.0,662.6 L1319.5,662.8 L1320.0,663.5 L1320.5,663.4 L1321.0,664.1 L1321.5,664.8 L1322.0,666.0 L1322.5,666.2 L1323.0,665.7 L1323.5,665.9 L1324.0,666.8 L1324.5,667.8 L1325.0,668.3 L1325.5,668.3 L1326.0,668.6 L1326.5,668.8 L1327.0,669.3 L1327.5,669.7 L1328.0,670.7 L1328.5,671.5 L1329.0,671.9 L1329.5,672.0 L1330.0,672.2 L1330.5,672.7 L1331.0,673.2 L1331.5,673.5 L1332.0,674.1 L1332.5,674.4 L1333.0,675.3 L1333.5,675.5 L1334.0,676.1 L1334.5,676.1 L1335.0,676.8 L1335.5,676.8 L1336.0,677.3 L1336.5,677.4 L1337.0,677.8 L1337.5,678.2 L1338.0,678.8 L1338.5,679.3 L1339.0,679.6 L1339.5,679.9 L1340.0,680.2 L1340.5,681.0 L1341.0,681.6 L1341.5,682.4 L1342.0,682.7 L1342.5,683.4 L1343.0,683.5 L1343.5,683.7 L1344.0,683.8 L1344.5,684.1 L1345.0,684.5 L1345.5,684.9 L1346.0,685.5 L1346.5,685.7 L1347.0,686.2 L1347.5,686.2 L1348.0,686.6 L1348.5,686.8 L1349.0,687.3 L1349.5,687.4 L1350.0,687.9 L1350.5,688.5 L1351.0,688.9 L1351.5,689.3 L1352.0,689.5 L1352.5,690.1 L1353.0,690.5 L1353.5,690.9 L1354.0,691.0 L1354.5,690.9 L1355.0,691.4 L1355.5,691.6 L1356.0,692.3 L1356.5,692.4 L1357.0,693.2 L1357.5,693.4 L1358.0,693.6 L1358.5,693.3 L1359.0,693.7 L1359.5,694.1 L1360.0,694.7 L1360.5,694.9 L1361.0,695.4 L1361.5,696.0 L1362.0,696.5 L1362.5,696.6 L1363.0,696.9 L1363.5,697.2 L1364.0,697.5 L1364.5,698.1 L1365.0,698.2 L1365.5,698.9 L1366.0,698.9 L1366.5,699.2 L1367.0,699.1 L1367.5,699.5 L1368.0,699.9 L1368.5,700.2 L1369.0,700.8 L1369.5,701.1 L1370.0,701.6 L1370.5,701.9 L1371.0,702.3 L1371.5,702.4 L1372.0,702.9 L1372.5,702.7 L1373.0,702.9 L1373.5,702.8 L1374.0,703.8 L1374.5,704.2 L1375.0,704.7 L1375.5,705.0 L1376.0,705.5 L1376.5,705.5 L1377.0,705.8 L1377.5,706.2 L1378.0,706.5 L1378.5,706.8 L1379.0,706.5 L1379.5,707.0 L1380.0,707.1 L1380.5,707.8 L1381.0,707.8 L1381.5,708.3 L1382.0,708.3 L1382.5,708.8 L1383.0,709.1 L1383.5,710.1 L1384.0,710.5 L1384.5,710.8 L1385.0,711.0 L1385.5,711.4 L1386.0,711.4 L1386.5,711.4 L1387.0,711.5 L1387.5,712.2 L1388.0,712.5 L1388.5,712.4 L1389.0,712.4 L1389.5,713.0 L1390.0,713.7 L1390.5,714.0 L1391.0,713.8 L1391.5,713.9 L1392.0,714.0 L1392.5,713.7 L1393.0,714.2 L1393.5,714.5 L1394.0,715.3 L1394.5,715.3 L1395.0,715.7 L1395.5,716.0 L1396.0,716.7 L1396.5,717.0 L1397.0,717.5 L1397.5,717.5 L1398.0,718.1 L1398.5,718.2 L1399.0,718.1 L1399.5,718.5 L1400.0,719.1 L1400.5,719.9 L1401.0,719.5 L1401.5,719.7 L1402.0,719.8 L1402.5,720.3 L1403.0,720.1 L1403.5,720.6 L1404.0,720.9 L1404.5,721.2 L1405.0,721.0 L1405.5,721.6 L1406.0,721.7 L1406.5,722.2 L1407.0,722.3 L1407.5,723.3 L1408.0,723.3 L1408.5,723.6 L1409.0,723.6 L1409.5,724.2 L1410.0,724.1 L1410.5,724.1 L1411.0,724.2 L1411.5,725.1 L1412.0,725.2 L1412.5,725.8 L1413.0,726.3 L1413.5,726.5 L1414.0,726.0 L1414.5,725.8 L1415.0,726.3 L1415.5,727.2 L1416.0,727.1 L1416.5,727.0 L1417.0,726.3 L1417.5,726.6 L1418.0,727.4 L1418.5,728.9 L1419.0,729.7 L1419.5,729.6 L1420.0,729.0 L1420.5,729.7 L1421.0,730.4 L1421.5,730.8 L1422.0,730.2 L1422.5,729.7 L1423.0,729.9 L1423.5,730.9 L1424.0,731.3 L1424.5,731.4 L1425.0,731.1 L1425.5,731.3 L1426.0,732.0 L1426.5,731.7 L1427.0,732.0 L1427.5,731.6 L1428.0,732.5 L1428.5,732.8 L1429.0,732.9 L1429.5,732.6 L1430.0,732.7 L1430.5,733.8 L1431.0,734.4 L1431.5,734.7 L1432.0,733.9 L1432.5,733.3 L1433.0,732.7 L1433.5,733.1 L1434.0,734.0 L1434.5,734.9 L1435.0,735.8 L1435.5,735.4 L1436.0,735.5 L1436.5,735.1 L1437.0,735.3 L1437.5,734.6 L1438.0,734.6 L1438.5,735.6 L1439.0,736.0 L1439.5,736.9 L1440.0,737.1 L1440.5,738.0 L1441.0,737.9 L1441.5,737.7 L1442.0,737.9 L1442.5,738.7 L1443.0,739.5 L1443.5,740.1 L1444.0,739.8 L1444.5,739.3 L1445.0,739.2 L1445.5,738.6 L1446.0,738.4 L1446.5,738.5 L1447.0,738.4 L1447.5,739.0 L1448.0,739.1 L1448.5,740.1 L1449.0,740.2 L1449.5,740.1 L1450.0,741.4 L1450.5,740.6 L1451.0,740.8 L1451.5,738.9 L1452.0,740.2 L1452.5,741.3 L1453.0,743.3 L1453.5,742.9 L1454.0,743.0 L1454.5,741.7 L1455.0,742.2 L1455.5,742.3 L1456.0,742.2 L1456.5,742.3 L1457.0,741.7 L1457.5,742.9 L1458.0,743.6 L1458.5,743.3 L1459.0,743.1 L1459.5,742.0 L1460.0,741.7 L1460.5,741.2 L1461.0,741.7 L1461.5,742.5 L1462.0,742.6 L1462.5,743.8 L1463.0,744.7" stroke="#e0332f" stroke-width="3.2"/>
<path d="M1029.9,776.5 L1030.4,776.9 L1030.9,776.8 L1031.4,777.3 L1031.9,776.7 L1032.4,776.4 L1032.9,774.7 L1033.4,774.2 L1033.9,774.1 L1034.4,774.2 L1034.9,774.2 L1035.4,774.0 L1035.9,773.2 L1036.4,772.6 L1036.9,772.1 L1037.4,772.1 L1037.9,771.7 L1038.4,771.6 L1038.9,771.3 L1039.4,771.8 L1039.9,771.3 L1040.4,771.4 L1040.9,770.4 L1041.4,770.3 L1041.9,770.3 L1042.4,770.5 L1042.9,770.5 L1043.4,770.1 L1043.9,769.8 L1044.4,769.5 L1044.9,769.3 L1045.4,769.2 L1045.9,768.8 L1046.4,768.4 L1046.9,767.8 L1047.4,767.7 L1047.9,767.4 L1048.4,767.5 L1048.9,767.4 L1049.4,767.3 L1049.9,767.2 L1050.4,766.8 L1050.9,766.7 L1051.4,766.4 L1051.9,766.3 L1052.4,766.1 L1052.9,766.0 L1053.4,765.7 L1053.9,765.5 L1054.4,765.2 L1054.9,765.2 L1055.4,765.1 L1055.9,764.8 L1056.4,764.6 L1056.9,764.5 L1057.4,764.4 L1057.9,764.2 L1058.4,763.9 L1058.9,763.6 L1059.4,763.5 L1059.9,763.3 L1060.4,763.2 L1060.9,763.0 L1061.4,762.8 L1061.9,762.7 L1062.4,762.3 L1062.9,762.1 L1063.4,761.7 L1063.9,761.4 L1064.4,761.2 L1064.9,760.8 L1065.4,760.5 L1065.9,760.2 L1066.4,760.0 L1066.9,759.8 L1067.4,759.5 L1067.9,759.3 L1068.4,759.0 L1068.9,758.7 L1069.4,758.3 L1069.9,758.0 L1070.4,757.7 L1070.9,757.4 L1071.4,757.0 L1071.9,756.6 L1072.4,756.1 L1072.9,755.8 L1073.4,755.5 L1073.9,755.6 L1074.4,755.2 L1074.9,754.9 L1075.4,754.4 L1075.9,754.0 L1076.4,753.6 L1076.9,753.3 L1077.4,753.1 L1077.9,752.9 L1078.4,752.6 L1078.9,752.2 L1079.4,751.7 L1079.9,751.4 L1080.4,751.3 L1080.9,750.9 L1081.4,750.4 L1081.9,750.1 L1082.4,749.8 L1082.9,749.6 L1083.4,748.9 L1083.9,748.6 L1084.4,748.0 L1084.9,747.9 L1085.4,747.6 L1085.9,747.3 L1086.4,747.0 L1086.9,746.6 L1087.4,746.2 L1087.9,745.8 L1088.4,745.1 L1088.9,744.3 L1089.4,743.9 L1089.9,743.6 L1090.4,743.4 L1090.9,742.8 L1091.4,742.1 L1091.9,741.4 L1092.4,740.7 L1092.9,740.2 L1093.4,739.7 L1093.9,739.1 L1094.4,738.7 L1094.9,738.1 L1095.4,737.7 L1095.9,736.9 L1096.4,736.3 L1096.9,735.6 L1097.4,735.0 L1097.9,734.3 L1098.4,733.7 L1098.9,733.0 L1099.4,732.4 L1099.9,731.9 L1100.4,731.0 L1100.9,730.5 L1101.4,729.7 L1101.9,729.1 L1102.4,728.2 L1102.9,727.5 L1103.4,726.8 L1103.9,726.2 L1104.4,725.7 L1104.9,725.1 L1105.4,724.3 L1105.9,723.5 L1106.4,722.8 L1106.9,722.0 L1107.4,721.4 L1107.9,720.6 L1108.4,719.9 L1108.9,719.2 L1109.4,718.6 L1109.9,717.8 L1110.4,716.9 L1110.9,716.3 L1111.4,715.7 L1111.9,714.8 L1112.4,713.9 L1112.9,713.1 L1113.4,712.4 L1113.9,711.6 L1114.4,710.6 L1114.9,710.0 L1115.4,709.2 L1115.9,708.6 L1116.4,707.8 L1116.9,707.1 L1117.4,706.3 L1117.9,705.7 L1118.4,704.8 L1118.9,704.0 L1119.4,703.2 L1119.9,702.6 L1120.4,701.6 L1120.9,700.7 L1121.4,699.7 L1121.9,699.0 L1122.4,698.1 L1122.9,697.5 L1123.4,696.9 L1123.9,696.0 L1124.4,695.1 L1124.9,694.1 L1125.4,693.2 L1125.9,692.2 L1126.4,691.3 L1126.9,690.7 L1127.4,690.1 L1127.9,689.4 L1128.4,688.5 L1128.9,687.4 L1129.4,686.5 L1129.9,685.6 L1130.4,685.0 L1130.9,684.2 L1131.4,683.2 L1131.9,682.1 L1132.4,681.3 L1132.9,680.6 L1133.4,679.7 L1133.9,678.7 L1134.4,677.9 L1134.9,677.0 L1135.4,676.3 L1135.9,675.4 L1136.4,674.6 L1136.9,673.9 L1137.4,673.0 L1137.9,672.0 L1138.4,670.9 L1138.9,669.9 L1139.4,669.2 L1139.9,668.4 L1140.4,667.8 L1140.9,666.8 L1141.4,665.8 L1141.9,664.8 L1142.4,663.9 L1142.9,663.0 L1143.4,662.3 L1143.9,661.5 L1144.4,660.7 L1144.9,659.8 L1145.4,658.7 L1145.9,657.6 L1146.4,656.7 L1146.9,655.9 L1147.4,655.1 L1147.9,654.2 L1148.4,653.2 L1148.9,652.3 L1149.4,651.5 L1149.9,650.7 L1150.4,649.7 L1150.9,648.6 L1151.4,647.7 L1151.9,646.7 L1152.4,645.9 L1152.9,645.0 L1153.4,644.0 L1153.9,643.1 L1154.4,642.1 L1154.9,641.4 L1155.4,640.4 L1155.9,639.6 L1156.4,638.5 L1156.9,637.4 L1157.4,636.4 L1157.9,635.7 L1158.4,634.8 L1158.9,633.9 L1159.4,633.1 L1159.9,632.2 L1160.4,631.7 L1160.9,630.7 L1161.4,629.7 L1161.9,628.5 L1162.4,627.5 L1162.9,626.8 L1163.4,625.7 L1163.9,624.8 L1164.4,623.7 L1164.9,622.8 L1165.4,621.9 L1165.9,621.1 L1166.4,620.2 L1166.9,619.0 L1167.4,618.1 L1167.9,616.9 L1168.4,615.9 L1168.9,614.9 L1169.4,613.8 L1169.9,612.7 L1170.4,611.6 L1170.9,610.8 L1171.4,609.9 L1171.9,608.8 L1172.4,607.5 L1172.9,606.4 L1173.4,605.4 L1173.9,604.5 L1174.4,603.3 L1174.9,602.3 L1175.4,601.3 L1175.9,600.2 L1176.4,599.5 L1176.9,598.3 L1177.4,597.4 L1177.9,596.2 L1178.4,595.4 L1178.9,594.6 L1179.4,593.6 L1179.9,592.5 L1180.4,591.4 L1180.9,590.4 L1181.4,589.6 L1181.9,588.7 L1182.4,587.8 L1182.9,586.9 L1183.4,585.7 L1183.9,584.6 L1184.4,583.7 L1184.9,582.9 L1185.4,582.0 L1185.9,580.9 L1186.4,579.9 L1186.9,578.9 L1187.4,577.9 L1187.9,577.0 L1188.4,576.1 L1188.9,575.2 L1189.4,574.0 L1189.9,573.0 L1190.4,572.0 L1190.9,571.2 L1191.4,570.2 L1191.9,569.2 L1192.4,568.1 L1192.9,567.3 L1193.4,566.4 L1193.9,565.4 L1194.4,564.2 L1194.9,563.1 L1195.4,562.2 L1195.9,561.1 L1196.4,560.2 L1196.9,559.2 L1197.4,558.4 L1197.9,557.4 L1198.4,556.2 L1198.9,555.1 L1199.4,554.1 L1199.9,553.2 L1200.4,552.2 L1200.9,551.1 L1201.4,550.0 L1201.9,548.9 L1202.4,548.0 L1202.9,547.0 L1203.4,546.1 L1203.9,545.2 L1204.4,544.0 L1204.9,542.9 L1205.4,541.7 L1205.9,540.9 L1206.4,539.8 L1206.9,538.8 L1207.4,537.8 L1207.9,536.9 L1208.4,536.1 L1208.9,535.2 L1209.4,534.5 L1209.9,533.5 L1210.4,532.4 L1210.9,531.5 L1211.4,530.7 L1211.9,530.0 L1212.4,529.4 L1212.9,528.4 L1213.4,527.5 L1213.9,526.7 L1214.4,526.1 L1214.9,525.2 L1215.4,524.5 L1215.9,523.8 L1216.4,523.3 L1216.9,522.6 L1217.4,522.0 L1217.9,521.2 L1218.4,520.5 L1218.9,519.8 L1219.4,519.6 L1219.9,518.9 L1220.4,518.3 L1220.9,517.6 L1221.4,517.1 L1221.9,516.5 L1222.4,515.9 L1222.9,515.1 L1223.4,514.5 L1223.9,513.8 L1224.4,513.5 L1224.9,513.0 L1225.4,512.5 L1225.9,511.8 L1226.4,511.2 L1226.9,510.7 L1227.4,510.1 L1227.9,509.7 L1228.4,509.1 L1228.9,508.9 L1229.4,508.5 L1229.9,508.0 L1230.4,507.6 L1230.9,507.3 L1231.4,506.9 L1231.9,506.6 L1232.4,506.0 L1232.9,505.8 L1233.4,505.3 L1233.9,504.9 L1234.4,504.8 L1234.9,504.6 L1235.4,504.4 L1235.9,503.9 L1236.4,503.6 L1236.9,503.2 L1237.4,503.2 L1237.9,502.8 L1238.4,502.7 L1238.9,502.3 L1239.4,502.1 L1239.9,501.9 L1240.4,502.0 L1240.9,502.1 L1241.4,501.9 L1241.9,501.7 L1242.4,501.6 L1242.9,501.5 L1243.4,501.4 L1243.9,501.4 L1244.4,501.5 L1244.9,501.6 L1245.4,501.7 L1245.9,501.6 L1246.4,501.6 L1246.9,501.8 L1247.4,502.0 L1247.9,501.9 L1248.4,501.9 L1248.9,502.1 L1249.4,502.4 L1249.9,502.5 L1250.4,502.5 L1250.9,502.5 L1251.4,502.4 L1251.9,502.8 L1252.4,502.9 L1252.9,503.1 L1253.4,503.0 L1253.9,503.2 L1254.4,503.5 L1254.9,503.7 L1255.4,503.9 L1255.9,504.0 L1256.4,504.4 L1256.9,504.5 L1257.4,504.7 L1257.9,504.8 L1258.4,504.9 L1258.9,505.1 L1259.4,505.2 L1259.9,505.4 L1260.4,505.6 L1260.9,505.9 L1261.4,506.3 L1261.9,506.7 L1262.4,506.8 L1262.9,506.9 L1263.4,507.2 L1263.9,507.4 L1264.4,507.7 L1264.9,507.7 L1265.4,508.0 L1265.9,508.4 L1266.4,508.6 L1266.9,509.0 L1267.4,509.3 L1267.9,509.9 L1268.4,510.1 L1268.9,510.2 L1269.4,510.3 L1269.9,510.7 L1270.4,511.2 L1270.9,511.6 L1271.4,512.1 L1271.9,512.2 L1272.4,512.6 L1272.9,512.9 L1273.4,513.3 L1273.9,513.6 L1274.4,514.1 L1274.9,514.4 L1275.4,514.7 L1275.9,514.9 L1276.4,515.4 L1276.9,515.8 L1277.4,516.1 L1277.9,516.4 L1278.4,516.8 L1278.9,517.3 L1279.4,517.5 L1279.9,517.9 L1280.4,518.5 L1280.9,518.9 L1281.4,519.2 L1281.9,519.7 L1282.4,520.2 L1282.9,520.5 L1283.4,520.9 L1283.9,521.5 L1284.4,522.1 L1284.9,522.7 L1285.4,523.2 L1285.9,523.4 L1286.4,523.7 L1286.9,523.9 L1287.4,524.4 L1287.9,524.9 L1288.4,525.5 L1288.9,526.1 L1289.4,526.7 L1289.9,527.0 L1290.4,527.5 L1290.9,527.9 L1291.4,528.5 L1291.9,528.9 L1292.4,529.5 L1292.9,530.1 L1293.4,530.8 L1293.9,531.1 L1294.4,531.4 L1294.9,531.7 L1295.4,532.3 L1295.9,533.0 L1296.4,533.7 L1296.9,534.1 L1297.4,534.3 L1297.9,534.8 L1298.4,535.4 L1298.9,536.1 L1299.4,536.6 L1299.9,537.0 L1300.4,537.3 L1300.9,537.9 L1301.4,538.5 L1301.9,539.1 L1302.4,539.6 L1302.9,540.3 L1303.4,540.8 L1303.9,541.4 L1304.4,541.8 L1304.9,542.5 L1305.4,542.9 L1305.9,543.5 L1306.4,543.9 L1306.9,544.5 L1307.4,545.0 L1307.9,545.5 L1308.4,546.0 L1308.9,546.6 L1309.4,547.2 L1309.9,547.7 L1310.4,548.2 L1310.9,548.9 L1311.4,549.5 L1311.9,549.9 L1312.4,550.3 L1312.9,550.8 L1313.4,551.6 L1313.9,552.1 L1314.4,552.8 L1314.9,553.1 L1315.4,553.7 L1315.9,554.1 L1316.4,554.8 L1316.9,555.3 L1317.4,556.0 L1317.9,556.6 L1318.4,557.1 L1318.9,557.4 L1319.4,557.6 L1319.9,558.3 L1320.4,558.8 L1320.9,559.4 L1321.4,559.8 L1321.9,560.5 L1322.4,561.2 L1322.9,561.8 L1323.4,562.1 L1323.9,562.5 L1324.4,562.9 L1324.9,563.6 L1325.4,564.2 L1325.9,564.8 L1326.4,565.4 L1326.9,566.0 L1327.4,566.3 L1327.9,566.8 L1328.4,567.2 L1328.9,567.7 L1329.4,568.1 L1329.9,568.6 L1330.4,569.1 L1330.9,569.7 L1331.4,570.3 L1331.9,570.6 L1332.4,571.1 L1332.9,571.6 L1333.4,572.4 L1333.9,573.0 L1334.4,573.5 L1334.9,573.8 L1335.4,574.3 L1335.9,574.8 L1336.4,575.4 L1336.9,575.9 L1337.4,576.5 L1337.9,576.9 L1338.4,577.3 L1338.9,577.6 L1339.4,578.3 L1339.9,578.9 L1340.4,579.5 L1340.9,580.1 L1341.4,580.6 L1341.9,581.1 L1342.4,581.3 L1342.9,581.9 L1343.4,582.4 L1343.9,583.0 L1344.4,583.8 L1344.9,584.1 L1345.4,584.6 L1345.9,584.9 L1346.4,585.4 L1346.9,585.9 L1347.4,586.6 L1347.9,587.0 L1348.4,587.6 L1348.9,588.1 L1349.4,588.7 L1349.9,589.1 L1350.4,589.6 L1350.9,590.2 L1351.4,590.7 L1351.9,591.3 L1352.4,591.6 L1352.9,592.3 L1353.4,592.7 L1353.9,593.5 L1354.4,593.9 L1354.9,594.3 L1355.4,594.8 L1355.9,595.3 L1356.4,595.9 L1356.9,596.4 L1357.4,596.9 L1357.9,597.3 L1358.4,597.8 L1358.9,598.4 L1359.4,599.0 L1359.9,599.5 L1360.4,600.0 L1360.9,600.5 L1361.4,601.0 L1361.9,601.3 L1362.4,601.9 L1362.9,602.4 L1363.4,602.8 L1363.9,603.4 L1364.4,603.9 L1364.9,604.4 L1365.4,604.8 L1365.9,605.2 L1366.4,605.7 L1366.9,606.4 L1367.4,607.0 L1367.9,607.4 L1368.4,607.7 L1368.9,608.3 L1369.4,608.9 L1369.9,609.5 L1370.4,610.0 L1370.9,610.3 L1371.4,610.9 L1371.9,611.3 L1372.4,612.0 L1372.9,612.4 L1373.4,612.9 L1373.9,613.4 L1374.4,613.9 L1374.9,614.6 L1375.4,615.2 L1375.9,615.7 L1376.4,616.0 L1376.9,616.4 L1377.4,616.9 L1377.9,617.5 L1378.4,617.9 L1378.9,618.3 L1379.4,618.6 L1379.9,619.1 L1380.4,619.7 L1380.9,620.3 L1381.4,620.7 L1381.9,621.1 L1382.4,621.7 L1382.9,622.1 L1383.4,622.6 L1383.9,623.0 L1384.4,623.6 L1384.9,624.0 L1385.4,624.4 L1385.9,624.9 L1386.4,625.4 L1386.9,625.9 L1387.4,626.5 L1387.9,626.9 L1388.4,627.5 L1388.9,628.0 L1389.4,628.6 L1389.9,629.0 L1390.4,629.2 L1390.9,629.5 L1391.4,629.9 L1391.9,630.6 L1392.4,631.2 L1392.9,631.4 L1393.4,631.8 L1393.9,632.3 L1394.4,633.0 L1394.9,633.5 L1395.4,633.8 L1395.9,634.2 L1396.4,634.5 L1396.9,635.1 L1397.4,635.7 L1397.9,636.2 L1398.4,636.8 L1398.9,637.1 L1399.4,637.4 L1399.9,637.6 L1400.4,638.1 L1400.9,638.7 L1401.4,639.1 L1401.9,639.6 L1402.4,640.1 L1402.9,640.6 L1403.4,641.1 L1403.9,641.4 L1404.4,641.8 L1404.9,642.3 L1405.4,642.8 L1405.9,643.5 L1406.4,643.7 L1406.9,644.0 L1407.4,644.4 L1407.9,644.8 L1408.4,645.4 L1408.9,645.8 L1409.4,646.2 L1409.9,646.7 L1410.4,647.2 L1410.9,647.9 L1411.4,648.3 L1411.9,648.6 L1412.4,648.9 L1412.9,649.5 L1413.4,649.8 L1413.9,650.4 L1414.4,650.7 L1414.9,651.2 L1415.4,651.6 L1415.9,652.2 L1416.4,652.6 L1416.9,652.9 L1417.4,653.1 L1417.9,653.7 L1418.4,654.2 L1418.9,654.8 L1419.4,655.0 L1419.9,655.3 L1420.4,655.7 L1420.9,656.4 L1421.4,657.1 L1421.9,657.6 L1422.4,657.8 L1422.9,657.9 L1423.4,658.2 L1423.9,658.8 L1424.4,659.6 L1424.9,660.0 L1425.4,660.5 L1425.9,660.8 L1426.4,661.3 L1426.9,661.6 L1427.4,662.1 L1427.9,662.5 L1428.4,662.9 L1428.9,663.4 L1429.4,663.8 L1429.9,664.3 L1430.4,664.8 L1430.9,665.3 L1431.4,665.7 L1431.9,666.2 L1432.4,666.8 L1432.9,667.3 L1433.4,667.9 L1433.9,668.2 L1434.4,668.6 L1434.9,669.0 L1435.4,669.5 L1435.9,670.0 L1436.4,670.5 L1436.9,671.0 L1437.4,671.7 L1437.9,672.3 L1438.4,672.9 L1438.9,673.3 L1439.4,673.7 L1439.9,674.2 L1440.4,674.7 L1440.9,675.0 L1441.4,675.6 L1441.9,676.2 L1442.4,676.7 L1442.9,676.9 L1443.4,677.1 L1443.9,677.6 L1444.4,678.2 L1444.9,678.9 L1445.4,679.4 L1445.9,679.9 L1446.4,680.4 L1446.9,680.9 L1447.4,681.3 L1447.9,681.7 L1448.4,682.2 L1448.9,682.6 L1449.4,683.2 L1449.9,683.7 L1450.4,684.2 L1450.9,684.8 L1451.4,685.3 L1451.9,685.7 L1452.4,685.9 L1452.9,686.3 L1453.4,686.8 L1453.9,687.5 L1454.4,688.0 L1454.9,688.6 L1455.4,689.1 L1455.9,689.6 L1456.4,689.8 L1456.9,690.1 L1457.4,690.4 L1457.9,691.0 L1458.4,691.6 L1458.9,692.3 L1459.4,692.7 L1459.9,693.2 L1460.4,693.4 L1460.9,693.7 L1461.4,694.0 L1461.9,694.2 L1462.4,694.5 L1462.9,694.6" stroke="#6cb04e" stroke-width="3.2"/>
</g>
<rect x="822.5" y="401.8" width="640.7" height="441" fill="none" stroke="#000" stroke-width="2.3"/>
<path d="M837.2,843V834.0 M861.2,843V829.0 M885.2,843V834.0 M909.1,843V834.0 M933.1,843V834.0 M957.1,843V834.0 M981.1,843V829.0 M1005.0,843V834.0 M1029.0,843V834.0 M1053.0,843V834.0 M1076.9,843V834.0 M1100.9,843V829.0 M1124.9,843V834.0 M1148.8,843V834.0 M1172.8,843V834.0 M1196.8,843V834.0 M1220.8,843V829.0 M1244.7,843V834.0 M1268.7,843V834.0 M1292.7,843V834.0 M1316.6,843V834.0 M1340.6,843V829.0 M1364.6,843V834.0 M1388.5,843V834.0 M1412.5,843V834.0 M1436.5,843V834.0 M822.5,803.9H829.5 M822.5,783.5H829.5 M822.5,769.1H829.5 M822.5,757.9H829.5 M822.5,748.7H829.5 M822.5,741.0H829.5 M822.5,734.3H829.5 M822.5,728.4H829.5 M822.5,723.1H836.5 M822.5,688.3H829.5 M822.5,667.9H829.5 M822.5,653.5H829.5 M822.5,642.3H829.5 M822.5,633.1H829.5 M822.5,625.4H829.5 M822.5,618.7H829.5 M822.5,612.8H829.5 M822.5,607.5H836.5 M822.5,572.7H829.5 M822.5,552.3H829.5 M822.5,537.9H829.5 M822.5,526.7H829.5 M822.5,517.5H829.5 M822.5,509.8H829.5 M822.5,503.1H829.5 M822.5,497.2H829.5 M822.5,491.9H836.5 M822.5,457.1H829.5 M822.5,436.7H829.5 M822.5,422.3H829.5 M822.5,411.1H829.5" stroke="#000" stroke-width="2"/>
<text x="861.2" y="877" font-size="33" text-anchor="middle">600</text>
<text x="981.1" y="877" font-size="33" text-anchor="middle">650</text>
<text x="1100.9" y="877" font-size="33" text-anchor="middle">700</text>
<text x="1220.8" y="877" font-size="33" text-anchor="middle">750</text>
<text x="1340.6" y="877" font-size="33" text-anchor="middle">800</text>
<text x="1460.5" y="877" font-size="33" text-anchor="middle">850</text>
<text x="762.5" y="505.7" font-size="33">10<tspan font-size="24.5" dx="1" dy="-11.5">5</tspan></text>
<text x="762.5" y="621.3" font-size="33">10<tspan font-size="24.5" dx="1" dy="-11.5">4</tspan></text>
<text x="762.5" y="737.4" font-size="33">10<tspan font-size="24.5" dx="1" dy="-11.5">3</tspan></text>
<text x="762.5" y="855.8" font-size="33">10<tspan font-size="24.5" dx="1" dy="-11.5">2</tspan></text>
<text x="1023" y="925.5" font-size="34.3">Wavelength (nm)</text>
<text transform="translate(752,623.6) rotate(-90)" font-size="34.3" text-anchor="middle">PL intensity (a.u.)</text>
<text x="750" y="433.5" class="b" font-size="33.5">(f)</text>
<line x1="838" y1="419.5" x2="870" y2="419.5" stroke="#60ba46" stroke-width="3.2"/>
<line x1="838" y1="452.6" x2="870" y2="452.6" stroke="#2a56a8" stroke-width="3.2"/>
<line x1="838" y1="487" x2="870" y2="487" stroke="#e6392e" stroke-width="3.2"/>
<text x="878" y="430.3" class="b" font-size="29.6">Monolayer WSe<tspan font-size="21" dy="5">2</tspan></text>
<text x="878" y="463" class="b" font-size="29.6">Monolayer MoS<tspan font-size="21" dy="5">2</tspan></text>
<text x="878" y="498.3" class="b" font-size="29.6">MoS<tspan font-size="21" dy="5">2</tspan><tspan dy="-5">/WSe</tspan><tspan font-size="21" dy="5">2</tspan><tspan dy="-5"> Heterojunction</tspan></text>
</svg>
</body></html>
